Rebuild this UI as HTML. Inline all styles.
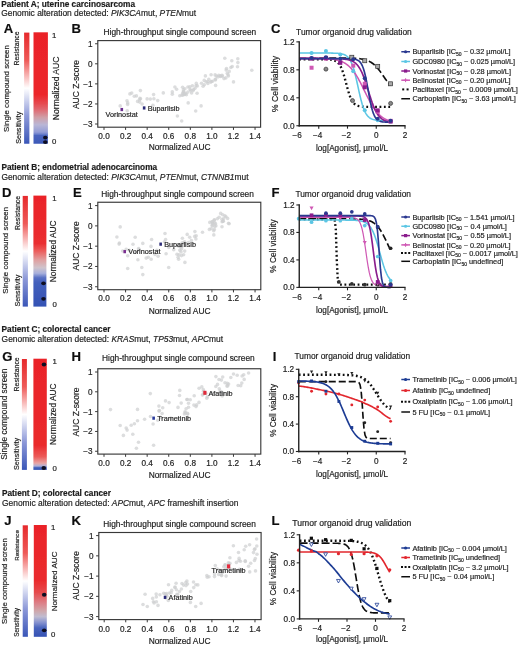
<!DOCTYPE html>
<html lang="en"><head><meta charset="utf-8"><title>Figure</title>
<style>text{stroke:#222;stroke-width:0.18px;paint-order:stroke fill}html,body{margin:0;padding:0;background:#fff}body{width:520px;height:646px;overflow:hidden}svg{display:block}</style></head>
<body>
<svg width="520" height="646" viewBox="0 0 520 646" font-family='"Liberation Sans", Arial, Helvetica, sans-serif'>
<defs>
<linearGradient id="gn" x1="0" y1="0" x2="0" y2="1"><stop offset="0" stop-color="#e62a2c"/><stop offset="0.25" stop-color="#ee5a58"/><stop offset="0.5" stop-color="#ffffff"/><stop offset="0.75" stop-color="#8c98d8"/><stop offset="1" stop-color="#3a56b8"/></linearGradient>
<linearGradient id="gh0" x1="0" y1="0" x2="0" y2="1"><stop offset="0" stop-color="#ea2328"/><stop offset="0.56" stop-color="#ec272b"/><stop offset="0.64" stop-color="#e64a50"/><stop offset="0.7" stop-color="#df6e76"/><stop offset="0.765" stop-color="#cfa0a8"/><stop offset="0.83" stop-color="#b9b6d6"/><stop offset="0.895" stop-color="#939cd6"/><stop offset="0.915" stop-color="#6a7ecb"/><stop offset="0.925" stop-color="#4a64bd"/><stop offset="1" stop-color="#3c58b8"/></linearGradient>
<linearGradient id="gh1" x1="0" y1="0" x2="0" y2="1"><stop offset="0" stop-color="#ea2328"/><stop offset="0.43" stop-color="#ea2e30"/><stop offset="0.5" stop-color="#ec5e5c"/><stop offset="0.58" stop-color="#e0a0a0"/><stop offset="0.65" stop-color="#cfc4cc"/><stop offset="0.7" stop-color="#a8b0dc"/><stop offset="0.74" stop-color="#5870c4"/><stop offset="0.78" stop-color="#4460bc"/><stop offset="1" stop-color="#3452b4"/></linearGradient>
<linearGradient id="gh2" x1="0" y1="0" x2="0" y2="1"><stop offset="0" stop-color="#ea2328"/><stop offset="0.78" stop-color="#ea2a2c"/><stop offset="0.88" stop-color="#ec5a58"/><stop offset="0.94" stop-color="#e8a4a4"/><stop offset="0.965" stop-color="#b0b0d8"/><stop offset="0.98" stop-color="#4460bc"/><stop offset="1" stop-color="#3452b4"/></linearGradient>
<linearGradient id="gh3" x1="0" y1="0" x2="0" y2="1"><stop offset="0" stop-color="#ea2328"/><stop offset="0.5" stop-color="#ea2c2e"/><stop offset="0.6" stop-color="#e64a4c"/><stop offset="0.7" stop-color="#dc8088"/><stop offset="0.77" stop-color="#cfa8ac"/><stop offset="0.82" stop-color="#c0bcd0"/><stop offset="0.87" stop-color="#8894d0"/><stop offset="0.92" stop-color="#4a64bd"/><stop offset="1" stop-color="#3452b4"/></linearGradient>
<filter id="bl" x="-5%" y="-5%" width="110%" height="110%"><feGaussianBlur stdDeviation="0.35"/></filter>
</defs>
<rect width="520" height="646" fill="#fff"/>
<g filter="url(#bl)" stroke-linecap="butt">
<text x="1.20" y="6.60" font-size="8.27" font-weight="bold" text-anchor="start" fill="#1a1a1a">Patient A; uterine carcinosarcoma</text>
<text x="1.20" y="16.40" font-size="8.42" font-weight="normal" text-anchor="start" fill="#222">Genomic alteration detected: <tspan font-style="italic">PIK3CA</tspan>mut, <tspan font-style="italic">PTEN</tspan>mut</text>
<text x="3.70" y="33.10" font-size="13.1" font-weight="bold" text-anchor="start" fill="#111">A</text>
<text x="71.60" y="33.10" font-size="13.1" font-weight="bold" text-anchor="start" fill="#111">B</text>
<text x="271.00" y="33.10" font-size="13.1" font-weight="bold" text-anchor="start" fill="#111">C</text>
<rect x="24.1" y="32.60" width="5.30" height="111.15" fill="url(#gn)"/>
<rect x="33.5" y="32.30" width="14.40" height="111.45" fill="url(#gh0)"/>
<ellipse cx="45.3" cy="137.62" rx="2.3" ry="1.9" fill="#101020"/>
<ellipse cx="45.3" cy="142.08" rx="2.3" ry="1.9" fill="#101020"/>
<text x="9.30" y="88.60" font-size="7.9" font-weight="normal" text-anchor="middle" fill="#222" transform="rotate(-90 9.30 88.60)">Single compound screen</text>
<text x="19.50" y="31.40" font-size="6.9" font-weight="normal" text-anchor="end" fill="#222" transform="rotate(-90 19.50 31.40)">Resistance</text>
<text x="20.60" y="143.75" font-size="7.1000000000000005" font-weight="normal" text-anchor="start" fill="#222" transform="rotate(-90 20.60 143.75)">Sensitivity</text>
<text x="58.80" y="88.30" font-size="8.65" font-weight="normal" text-anchor="middle" fill="#222" transform="rotate(-90 58.80 88.30)">Normalized AUC</text>
<text x="51.90" y="37.60" font-size="7.8" font-weight="normal" text-anchor="start" fill="#222">1</text>
<text x="52.00" y="144.35" font-size="7.8" font-weight="normal" text-anchor="start" fill="#222">0</text>
<text x="179.90" y="35.40" font-size="8.35" font-weight="normal" text-anchor="middle" fill="#222">High-throughput single compound screen</text>
<rect x="97.8" y="40.60" width="162.80" height="86.60" fill="none" stroke="#383838" stroke-width="1.15"/>
<line x1="95.10" y1="43.75" x2="97.80" y2="43.75" stroke="#383838" stroke-width="1.0"/>
<text x="92.60" y="46.65" font-size="8.2" font-weight="normal" text-anchor="end" fill="#222">1</text>
<line x1="95.10" y1="63.81" x2="97.80" y2="63.81" stroke="#383838" stroke-width="1.0"/>
<text x="92.60" y="66.71" font-size="8.2" font-weight="normal" text-anchor="end" fill="#222">0</text>
<line x1="95.10" y1="83.88" x2="97.80" y2="83.88" stroke="#383838" stroke-width="1.0"/>
<text x="92.60" y="86.78" font-size="8.2" font-weight="normal" text-anchor="end" fill="#222">−1</text>
<line x1="95.10" y1="103.94" x2="97.80" y2="103.94" stroke="#383838" stroke-width="1.0"/>
<text x="92.60" y="106.84" font-size="8.2" font-weight="normal" text-anchor="end" fill="#222">−2</text>
<line x1="95.10" y1="124.00" x2="97.80" y2="124.00" stroke="#383838" stroke-width="1.0"/>
<text x="92.60" y="126.90" font-size="8.2" font-weight="normal" text-anchor="end" fill="#222">−3</text>
<line x1="104.00" y1="127.20" x2="104.00" y2="129.90" stroke="#383838" stroke-width="1.0"/>
<text x="104.00" y="138.70" font-size="8.2" font-weight="normal" text-anchor="middle" fill="#222">0.0</text>
<line x1="125.58" y1="127.20" x2="125.58" y2="129.90" stroke="#383838" stroke-width="1.0"/>
<text x="125.58" y="138.70" font-size="8.2" font-weight="normal" text-anchor="middle" fill="#222">0.2</text>
<line x1="147.16" y1="127.20" x2="147.16" y2="129.90" stroke="#383838" stroke-width="1.0"/>
<text x="147.16" y="138.70" font-size="8.2" font-weight="normal" text-anchor="middle" fill="#222">0.4</text>
<line x1="168.74" y1="127.20" x2="168.74" y2="129.90" stroke="#383838" stroke-width="1.0"/>
<text x="168.74" y="138.70" font-size="8.2" font-weight="normal" text-anchor="middle" fill="#222">0.6</text>
<line x1="190.32" y1="127.20" x2="190.32" y2="129.90" stroke="#383838" stroke-width="1.0"/>
<text x="190.32" y="138.70" font-size="8.2" font-weight="normal" text-anchor="middle" fill="#222">0.8</text>
<line x1="211.90" y1="127.20" x2="211.90" y2="129.90" stroke="#383838" stroke-width="1.0"/>
<text x="211.90" y="138.70" font-size="8.2" font-weight="normal" text-anchor="middle" fill="#222">1.0</text>
<line x1="233.48" y1="127.20" x2="233.48" y2="129.90" stroke="#383838" stroke-width="1.0"/>
<text x="233.48" y="138.70" font-size="8.2" font-weight="normal" text-anchor="middle" fill="#222">1.2</text>
<line x1="255.06" y1="127.20" x2="255.06" y2="129.90" stroke="#383838" stroke-width="1.0"/>
<text x="255.06" y="138.70" font-size="8.2" font-weight="normal" text-anchor="middle" fill="#222">1.4</text>
<text x="179.60" y="150.30" font-size="8.4" font-weight="normal" text-anchor="middle" fill="#222">Normalized AUC</text>
<text x="78.80" y="84.50" font-size="8.5" font-weight="normal" text-anchor="middle" fill="#222" transform="rotate(-90 78.80 84.50)">AUC Z-score</text>
<circle cx="134.3" cy="96.2" r="1.8" fill="#cdcfd0" fill-opacity="0.7"/>
<circle cx="142.1" cy="104.0" r="1.8" fill="#cdcfd0" fill-opacity="0.7"/>
<circle cx="157.7" cy="100.6" r="1.8" fill="#cdcfd0" fill-opacity="0.7"/>
<circle cx="176.6" cy="89.2" r="1.8" fill="#cdcfd0" fill-opacity="0.7"/>
<circle cx="131.7" cy="93.1" r="1.8" fill="#cdcfd0" fill-opacity="0.7"/>
<circle cx="153.6" cy="94.6" r="1.8" fill="#cdcfd0" fill-opacity="0.7"/>
<circle cx="174.9" cy="87.0" r="1.8" fill="#cdcfd0" fill-opacity="0.7"/>
<circle cx="172.3" cy="91.9" r="1.8" fill="#cdcfd0" fill-opacity="0.7"/>
<circle cx="140.4" cy="90.6" r="1.8" fill="#cdcfd0" fill-opacity="0.7"/>
<circle cx="127.6" cy="104.4" r="1.8" fill="#cdcfd0" fill-opacity="0.7"/>
<circle cx="127.2" cy="110.8" r="1.8" fill="#cdcfd0" fill-opacity="0.7"/>
<circle cx="150.3" cy="99.1" r="1.8" fill="#cdcfd0" fill-opacity="0.7"/>
<circle cx="139.6" cy="99.8" r="1.8" fill="#cdcfd0" fill-opacity="0.7"/>
<circle cx="139.9" cy="98.4" r="1.8" fill="#cdcfd0" fill-opacity="0.7"/>
<circle cx="153.9" cy="98.8" r="1.8" fill="#cdcfd0" fill-opacity="0.7"/>
<circle cx="140.5" cy="98.7" r="1.8" fill="#cdcfd0" fill-opacity="0.7"/>
<circle cx="139.7" cy="102.1" r="1.8" fill="#cdcfd0" fill-opacity="0.7"/>
<circle cx="127.0" cy="100.8" r="1.8" fill="#cdcfd0" fill-opacity="0.7"/>
<circle cx="179.8" cy="95.7" r="1.8" fill="#cdcfd0" fill-opacity="0.7"/>
<circle cx="137.6" cy="101.4" r="1.8" fill="#cdcfd0" fill-opacity="0.7"/>
<circle cx="189.8" cy="86.9" r="1.8" fill="#cdcfd0" fill-opacity="0.7"/>
<circle cx="147.1" cy="98.9" r="1.8" fill="#cdcfd0" fill-opacity="0.7"/>
<circle cx="172.3" cy="94.2" r="1.8" fill="#cdcfd0" fill-opacity="0.7"/>
<circle cx="152.9" cy="105.2" r="1.8" fill="#cdcfd0" fill-opacity="0.7"/>
<circle cx="229.2" cy="71.4" r="1.8" fill="#cdcfd0" fill-opacity="0.7"/>
<circle cx="215.3" cy="79.2" r="1.8" fill="#cdcfd0" fill-opacity="0.7"/>
<circle cx="232.2" cy="66.5" r="1.8" fill="#cdcfd0" fill-opacity="0.7"/>
<circle cx="215.4" cy="79.9" r="1.8" fill="#cdcfd0" fill-opacity="0.7"/>
<circle cx="183.7" cy="91.8" r="1.8" fill="#cdcfd0" fill-opacity="0.7"/>
<circle cx="205.4" cy="75.9" r="1.8" fill="#cdcfd0" fill-opacity="0.7"/>
<circle cx="191.6" cy="93.0" r="1.8" fill="#cdcfd0" fill-opacity="0.7"/>
<circle cx="220.3" cy="75.9" r="1.8" fill="#cdcfd0" fill-opacity="0.7"/>
<circle cx="203.1" cy="86.3" r="1.8" fill="#cdcfd0" fill-opacity="0.7"/>
<circle cx="226.2" cy="70.1" r="1.8" fill="#cdcfd0" fill-opacity="0.7"/>
<circle cx="211.5" cy="81.6" r="1.8" fill="#cdcfd0" fill-opacity="0.7"/>
<circle cx="183.4" cy="89.9" r="1.8" fill="#cdcfd0" fill-opacity="0.7"/>
<circle cx="184.2" cy="94.5" r="1.8" fill="#cdcfd0" fill-opacity="0.7"/>
<circle cx="215.6" cy="85.4" r="1.8" fill="#cdcfd0" fill-opacity="0.7"/>
<circle cx="204.2" cy="80.4" r="1.8" fill="#cdcfd0" fill-opacity="0.7"/>
<circle cx="237.9" cy="62.6" r="1.8" fill="#cdcfd0" fill-opacity="0.7"/>
<circle cx="225.8" cy="77.9" r="1.8" fill="#cdcfd0" fill-opacity="0.7"/>
<circle cx="195.0" cy="88.2" r="1.8" fill="#cdcfd0" fill-opacity="0.7"/>
<circle cx="211.1" cy="74.8" r="1.8" fill="#cdcfd0" fill-opacity="0.7"/>
<circle cx="207.9" cy="81.6" r="1.8" fill="#cdcfd0" fill-opacity="0.7"/>
<circle cx="197.1" cy="93.3" r="1.8" fill="#cdcfd0" fill-opacity="0.7"/>
<circle cx="182.0" cy="95.3" r="1.8" fill="#cdcfd0" fill-opacity="0.7"/>
<circle cx="226.5" cy="68.5" r="1.8" fill="#cdcfd0" fill-opacity="0.7"/>
<circle cx="224.0" cy="78.6" r="1.8" fill="#cdcfd0" fill-opacity="0.7"/>
<circle cx="228.0" cy="74.8" r="1.8" fill="#cdcfd0" fill-opacity="0.7"/>
<circle cx="206.1" cy="81.8" r="1.8" fill="#cdcfd0" fill-opacity="0.7"/>
<circle cx="184.9" cy="88.7" r="1.8" fill="#cdcfd0" fill-opacity="0.7"/>
<circle cx="193.1" cy="90.6" r="1.8" fill="#cdcfd0" fill-opacity="0.7"/>
<circle cx="210.6" cy="82.1" r="1.8" fill="#cdcfd0" fill-opacity="0.7"/>
<circle cx="201.5" cy="83.2" r="1.8" fill="#cdcfd0" fill-opacity="0.7"/>
<circle cx="212.5" cy="81.3" r="1.8" fill="#cdcfd0" fill-opacity="0.7"/>
<circle cx="207.9" cy="83.5" r="1.8" fill="#cdcfd0" fill-opacity="0.7"/>
<circle cx="183.3" cy="92.0" r="1.8" fill="#cdcfd0" fill-opacity="0.7"/>
<circle cx="215.1" cy="74.9" r="1.8" fill="#cdcfd0" fill-opacity="0.7"/>
<circle cx="230.9" cy="67.5" r="1.8" fill="#cdcfd0" fill-opacity="0.7"/>
<circle cx="228.4" cy="76.0" r="1.8" fill="#cdcfd0" fill-opacity="0.7"/>
<circle cx="196.3" cy="83.4" r="1.8" fill="#cdcfd0" fill-opacity="0.7"/>
<circle cx="186.4" cy="94.8" r="1.8" fill="#cdcfd0" fill-opacity="0.7"/>
<circle cx="182.6" cy="87.2" r="1.8" fill="#cdcfd0" fill-opacity="0.7"/>
<circle cx="196.0" cy="85.7" r="1.8" fill="#cdcfd0" fill-opacity="0.7"/>
<circle cx="187.9" cy="92.1" r="1.8" fill="#cdcfd0" fill-opacity="0.7"/>
<circle cx="185.7" cy="93.2" r="1.8" fill="#cdcfd0" fill-opacity="0.7"/>
<circle cx="190.8" cy="90.6" r="1.8" fill="#cdcfd0" fill-opacity="0.7"/>
<circle cx="197.3" cy="85.9" r="1.8" fill="#cdcfd0" fill-opacity="0.7"/>
<circle cx="222.4" cy="76.1" r="1.8" fill="#cdcfd0" fill-opacity="0.7"/>
<circle cx="208.8" cy="79.2" r="1.8" fill="#cdcfd0" fill-opacity="0.7"/>
<circle cx="183.0" cy="94.9" r="1.8" fill="#cdcfd0" fill-opacity="0.7"/>
<circle cx="192.4" cy="85.7" r="1.8" fill="#cdcfd0" fill-opacity="0.7"/>
<circle cx="187.9" cy="87.0" r="1.8" fill="#cdcfd0" fill-opacity="0.7"/>
<circle cx="193.6" cy="89.5" r="1.8" fill="#cdcfd0" fill-opacity="0.7"/>
<circle cx="216.3" cy="76.1" r="1.8" fill="#cdcfd0" fill-opacity="0.7"/>
<circle cx="182.7" cy="93.2" r="1.8" fill="#cdcfd0" fill-opacity="0.7"/>
<circle cx="190.1" cy="89.4" r="1.8" fill="#cdcfd0" fill-opacity="0.7"/>
<circle cx="222.0" cy="75.4" r="1.8" fill="#cdcfd0" fill-opacity="0.7"/>
<circle cx="220.5" cy="76.5" r="1.8" fill="#cdcfd0" fill-opacity="0.7"/>
<circle cx="237.5" cy="66.7" r="1.8" fill="#cdcfd0" fill-opacity="0.7"/>
<circle cx="227.3" cy="73.3" r="1.8" fill="#cdcfd0" fill-opacity="0.7"/>
<circle cx="218.8" cy="75.4" r="1.8" fill="#cdcfd0" fill-opacity="0.7"/>
<circle cx="204.3" cy="84.7" r="1.8" fill="#cdcfd0" fill-opacity="0.7"/>
<circle cx="217.8" cy="76.9" r="1.8" fill="#cdcfd0" fill-opacity="0.7"/>
<circle cx="185.0" cy="94.0" r="1.8" fill="#cdcfd0" fill-opacity="0.7"/>
<circle cx="231.8" cy="60.8" r="1.8" fill="#cdcfd0" fill-opacity="0.7"/>
<circle cx="224.8" cy="58.2" r="1.8" fill="#cdcfd0" fill-opacity="0.7"/>
<circle cx="237.8" cy="58.8" r="1.8" fill="#cdcfd0" fill-opacity="0.7"/>
<circle cx="251.8" cy="70.2" r="1.8" fill="#cdcfd0" fill-opacity="0.7"/>
<circle cx="181.7" cy="121.0" r="1.8" fill="#cdcfd0" fill-opacity="0.7"/>
<circle cx="177.4" cy="116.0" r="1.8" fill="#cdcfd0" fill-opacity="0.7"/>
<circle cx="195.7" cy="111.0" r="1.8" fill="#cdcfd0" fill-opacity="0.7"/>
<circle cx="188.2" cy="102.9" r="1.8" fill="#cdcfd0" fill-opacity="0.7"/>
<circle cx="201.1" cy="105.9" r="1.8" fill="#cdcfd0" fill-opacity="0.7"/>
<circle cx="120.2" cy="105.9" r="1.8" fill="#cdcfd0" fill-opacity="0.7"/>
<circle cx="127.7" cy="102.9" r="1.8" fill="#cdcfd0" fill-opacity="0.7"/>
<circle cx="136.4" cy="95.9" r="1.8" fill="#cdcfd0" fill-opacity="0.7"/>
<circle cx="129.9" cy="93.9" r="1.8" fill="#cdcfd0" fill-opacity="0.7"/>
<circle cx="233.5" cy="81.9" r="1.8" fill="#cdcfd0" fill-opacity="0.7"/>
<circle cx="163.3" cy="92.9" r="1.8" fill="#cdcfd0" fill-opacity="0.7"/>
<rect x="120.50" y="107.95" width="2.6" height="3.2" fill="#6b2d8f"/>
<text x="105.60" y="117.25" font-size="7.25" font-weight="normal" text-anchor="start" fill="#222">Vorinostat</text>
<rect x="142.84" y="106.35" width="2.6" height="3.2" fill="#2a2a78"/>
<text x="147.64" y="110.75" font-size="7.25" font-weight="normal" text-anchor="start" fill="#222">Buparlisib</text>
<text x="296.10" y="35.40" font-size="8.4" font-weight="normal" text-anchor="start" fill="#222">Tumor organoid drug validation</text>
<polyline points="299.25,59.35 300.27,59.35 301.28,59.35 302.30,59.35 303.31,59.35 304.33,59.35 305.34,59.35 306.36,59.35 307.37,59.35 308.39,59.35 309.40,59.35 310.42,59.35 311.43,59.35 312.45,59.35 313.46,59.35 314.48,59.35 315.49,59.35 316.51,59.35 317.52,59.35 318.54,59.35 319.56,59.35 320.57,59.36 321.59,59.36 322.60,59.37 323.62,59.38 324.63,59.39 325.65,59.41 326.66,59.44 327.68,59.48 328.69,59.53 329.71,59.60 330.72,59.69 331.74,59.82 332.75,60.00 333.77,60.25 334.78,60.59 335.80,61.06 336.82,61.68 337.83,62.52 338.85,63.63 339.86,65.08 340.88,66.93 341.89,69.24 342.91,72.03 343.92,75.27 344.94,78.87 345.95,82.69 346.97,86.53 347.98,90.20 349.00,93.53 350.01,96.42 351.03,98.83 352.04,100.78 353.06,102.31 354.07,103.49 355.09,104.38 356.11,105.05 357.12,105.54 358.14,105.90 359.15,106.17 360.17,106.36 361.18,106.51 362.20,106.61 363.21,106.68 364.23,106.74 365.24,106.78 366.26,106.80 367.27,106.82 368.29,106.84 369.30,106.85 370.32,106.86 371.33,106.86 372.35,106.87 373.37,106.87 374.38,106.87 375.40,106.87 376.41,106.87 377.43,106.87 378.44,106.88 379.46,106.88 380.47,106.88 381.49,106.88 382.50,106.88 383.52,106.88 384.53,106.88 385.55,106.88 386.56,106.88 387.58,106.88 388.59,106.88 389.61,106.88 390.62,106.88" fill="none" stroke="#111" stroke-width="2.35" stroke-dasharray="1.8 2.6" stroke-linejoin="round"/>
<polyline points="299.25,57.95 300.27,57.95 301.28,57.95 302.30,57.95 303.31,57.95 304.33,57.95 305.34,57.95 306.36,57.95 307.37,57.95 308.39,57.95 309.40,57.95 310.42,57.95 311.43,57.95 312.45,57.95 313.46,57.95 314.48,57.95 315.49,57.95 316.51,57.95 317.52,57.95 318.54,57.95 319.56,57.95 320.57,57.95 321.59,57.95 322.60,57.95 323.62,57.95 324.63,57.95 325.65,57.95 326.66,57.95 327.68,57.95 328.69,57.95 329.71,57.95 330.72,57.95 331.74,57.96 332.75,57.96 333.77,57.96 334.78,57.96 335.80,57.96 336.82,57.97 337.83,57.97 338.85,57.98 339.86,57.98 340.88,57.99 341.89,57.99 342.91,58.00 343.92,58.01 344.94,58.02 345.95,58.04 346.97,58.05 347.98,58.07 349.00,58.09 350.01,58.12 351.03,58.15 352.04,58.18 353.06,58.22 354.07,58.27 355.09,58.33 356.11,58.40 357.12,58.48 358.14,58.57 359.15,58.68 360.17,58.80 361.18,58.95 362.20,59.12 363.21,59.32 364.23,59.55 365.24,59.82 366.26,60.13 367.27,60.49 368.29,60.90 369.30,61.37 370.32,61.91 371.33,62.52 372.35,63.21 373.37,63.99 374.38,64.85 375.40,65.80 376.41,66.85 377.43,67.99 378.44,69.21 379.46,70.52 380.47,71.88 381.49,73.31 382.50,74.76 383.52,76.24 384.53,77.71 385.55,79.16 386.56,80.58 387.58,81.94 388.59,83.23 389.61,84.44 390.62,85.56" fill="none" stroke="#111" stroke-width="1.65" stroke-dasharray="7 3" stroke-linejoin="round"/>
<polyline points="299.25,53.05 300.27,53.05 301.28,53.05 302.30,53.05 303.31,53.05 304.33,53.05 305.34,53.05 306.36,53.05 307.37,53.05 308.39,53.05 309.40,53.05 310.42,53.05 311.43,53.05 312.45,53.05 313.46,53.05 314.48,53.05 315.49,53.05 316.51,53.05 317.52,53.06 318.54,53.06 319.56,53.06 320.57,53.06 321.59,53.06 322.60,53.06 323.62,53.06 324.63,53.06 325.65,53.06 326.66,53.07 327.68,53.07 328.69,53.08 329.71,53.08 330.72,53.09 331.74,53.11 332.75,53.12 333.77,53.15 334.78,53.18 335.80,53.21 336.82,53.26 337.83,53.33 338.85,53.42 339.86,53.53 340.88,53.69 341.89,53.88 342.91,54.14 343.92,54.48 344.94,54.93 345.95,55.50 346.97,56.25 347.98,57.20 349.00,58.42 350.01,59.95 351.03,61.86 352.04,64.20 353.06,67.01 354.07,70.32 355.09,74.10 356.11,78.30 357.12,82.79 358.14,87.43 359.15,92.05 360.17,96.48 361.18,100.57 362.20,104.22 363.21,107.39 364.23,110.07 365.24,112.28 366.26,114.08 367.27,115.52 368.29,116.65 369.30,117.54 370.32,118.24 371.33,118.77 372.35,119.18 373.37,119.50 374.38,119.74 375.40,119.92 376.41,120.06 377.43,120.17 378.44,120.25 379.46,120.31 380.47,120.36 381.49,120.40 382.50,120.42 383.52,120.44 384.53,120.46 385.55,120.47 386.56,120.48 387.58,120.49 388.59,120.49 389.61,120.50 390.62,120.50" fill="none" stroke="#5cc6e4" stroke-width="1.55" stroke-linejoin="round"/>
<polyline points="299.25,57.97 300.27,57.97 301.28,57.97 302.30,57.97 303.31,57.98 304.33,57.98 305.34,57.99 306.36,57.99 307.37,58.00 308.39,58.01 309.40,58.01 310.42,58.02 311.43,58.03 312.45,58.05 313.46,58.06 314.48,58.07 315.49,58.09 316.51,58.11 317.52,58.13 318.54,58.16 319.56,58.19 320.57,58.22 321.59,58.26 322.60,58.30 323.62,58.34 324.63,58.40 325.65,58.46 326.66,58.53 327.68,58.60 328.69,58.69 329.71,58.79 330.72,58.90 331.74,59.03 332.75,59.17 333.77,59.34 334.78,59.52 335.80,59.73 336.82,59.96 337.83,60.22 338.85,60.52 339.86,60.85 340.88,61.22 341.89,61.64 342.91,62.11 343.92,62.63 344.94,63.22 345.95,63.87 346.97,64.59 347.98,65.38 349.00,66.26 350.01,67.23 351.03,68.28 352.04,69.44 353.06,70.69 354.07,72.04 355.09,73.50 356.11,75.05 357.12,76.71 358.14,78.45 359.15,80.28 360.17,82.19 361.18,84.16 362.20,86.18 363.21,88.24 364.23,90.32 365.24,92.40 366.26,94.47 367.27,96.51 368.29,98.51 369.30,100.44 370.32,102.31 371.33,104.10 372.35,105.79 373.37,107.39 374.38,108.90 375.40,110.30 376.41,111.60 377.43,112.80 378.44,113.90 379.46,114.90 380.47,115.82 381.49,116.66 382.50,117.41 383.52,118.09 384.53,118.70 385.55,119.25 386.56,119.75 387.58,120.19 388.59,120.58 389.61,120.93 390.62,121.24" fill="none" stroke="#cf58b4" stroke-width="1.55" stroke-linejoin="round"/>
<polyline points="299.25,58.65 300.27,58.65 301.28,58.65 302.30,58.65 303.31,58.65 304.33,58.65 305.34,58.65 306.36,58.65 307.37,58.65 308.39,58.65 309.40,58.65 310.42,58.65 311.43,58.65 312.45,58.65 313.46,58.65 314.48,58.65 315.49,58.65 316.51,58.65 317.52,58.65 318.54,58.65 319.56,58.65 320.57,58.65 321.59,58.65 322.60,58.65 323.62,58.65 324.63,58.66 325.65,58.66 326.66,58.66 327.68,58.66 328.69,58.67 329.71,58.67 330.72,58.68 331.74,58.69 332.75,58.70 333.77,58.71 334.78,58.72 335.80,58.74 336.82,58.76 337.83,58.79 338.85,58.82 339.86,58.86 340.88,58.91 341.89,58.97 342.91,59.04 343.92,59.13 344.94,59.23 345.95,59.36 346.97,59.52 347.98,59.72 349.00,59.96 350.01,60.24 351.03,60.59 352.04,61.02 353.06,61.53 354.07,62.14 355.09,62.88 356.11,63.75 357.12,64.79 358.14,66.02 359.15,67.46 360.17,69.12 361.18,71.02 362.20,73.18 363.21,75.60 364.23,78.25 365.24,81.13 366.26,84.18 367.27,87.37 368.29,90.62 369.30,93.88 370.32,97.08 371.33,100.15 372.35,103.05 373.37,105.73 374.38,108.17 375.40,110.35 376.41,112.29 377.43,113.98 378.44,115.43 379.46,116.68 380.47,117.74 381.49,118.64 382.50,119.39 383.52,120.01 384.53,120.53 385.55,120.97 386.56,121.32 387.58,121.62 388.59,121.86 389.61,122.06 390.62,122.22" fill="none" stroke="#8a1c8c" stroke-width="1.65" stroke-linejoin="round"/>
<polyline points="299.25,58.65 300.27,58.65 301.28,58.65 302.30,58.65 303.31,58.65 304.33,58.65 305.34,58.65 306.36,58.65 307.37,58.65 308.39,58.65 309.40,58.65 310.42,58.65 311.43,58.65 312.45,58.65 313.46,58.65 314.48,58.65 315.49,58.65 316.51,58.65 317.52,58.65 318.54,58.65 319.56,58.65 320.57,58.65 321.59,58.65 322.60,58.65 323.62,58.65 324.63,58.65 325.65,58.65 326.66,58.65 327.68,58.65 328.69,58.65 329.71,58.65 330.72,58.65 331.74,58.65 332.75,58.65 333.77,58.65 334.78,58.65 335.80,58.65 336.82,58.65 337.83,58.65 338.85,58.65 339.86,58.65 340.88,58.65 341.89,58.65 342.91,58.65 343.92,58.66 344.94,58.66 345.95,58.67 346.97,58.68 347.98,58.70 349.00,58.72 350.01,58.75 351.03,58.80 352.04,58.86 353.06,58.95 354.07,59.08 355.09,59.27 356.11,59.53 357.12,59.90 358.14,60.43 359.15,61.16 360.17,62.19 361.18,63.59 362.20,65.49 363.21,68.00 364.23,71.23 365.24,75.23 366.26,79.98 367.27,85.30 368.29,90.95 369.30,96.56 370.32,101.80 371.33,106.42 372.35,110.29 373.37,113.39 374.38,115.78 375.40,117.59 376.41,118.92 377.43,119.88 378.44,120.58 379.46,121.07 380.47,121.42 381.49,121.67 382.50,121.85 383.52,121.97 384.53,122.05 385.55,122.11 386.56,122.16 387.58,122.19 388.59,122.21 389.61,122.22 390.62,122.23" fill="none" stroke="#2b3990" stroke-width="1.65" stroke-linejoin="round"/>
<circle cx="325.94" cy="69.13" r="2.0" fill="#888" stroke="#333" stroke-width="0.7"/>
<circle cx="352.53" cy="100.59" r="2.0" fill="#888" stroke="#333" stroke-width="0.7"/>
<circle cx="390.62" cy="103.38" r="2.0" fill="#888" stroke="#333" stroke-width="0.7"/>
<rect x="349.81" y="55.25" width="4.0" height="4.0" fill="#aaa" stroke="#333" stroke-width="0.7"/>
<rect x="362.75" y="58.74" width="4.0" height="4.0" fill="#aaa" stroke="#333" stroke-width="0.7"/>
<rect x="375.69" y="64.33" width="4.0" height="4.0" fill="#aaa" stroke="#333" stroke-width="0.7"/>
<rect x="388.62" y="81.81" width="4.0" height="4.0" fill="#aaa" stroke="#333" stroke-width="0.7"/>
<circle cx="311.56" cy="53.05" r="2.0" fill="#5cc6e4"/>
<circle cx="325.94" cy="50.96" r="2.0" fill="#5cc6e4"/>
<circle cx="340.31" cy="54.45" r="2.0" fill="#5cc6e4"/>
<circle cx="353.25" cy="71.23" r="2.0" fill="#5cc6e4"/>
<circle cx="364.75" cy="110.37" r="2.0" fill="#5cc6e4"/>
<circle cx="377.69" cy="120.16" r="2.0" fill="#5cc6e4"/>
<circle cx="390.62" cy="121.56" r="2.0" fill="#5cc6e4"/>
<rect x="309.56" y="65.73" width="4.0" height="4.0" fill="#cf58b4"/>
<rect x="323.94" y="56.65" width="4.0" height="4.0" fill="#cf58b4"/>
<rect x="338.31" y="58.74" width="4.0" height="4.0" fill="#cf58b4"/>
<rect x="351.25" y="63.64" width="4.0" height="4.0" fill="#cf58b4"/>
<rect x="362.75" y="81.81" width="4.0" height="4.0" fill="#cf58b4"/>
<rect x="375.69" y="109.77" width="4.0" height="4.0" fill="#cf58b4"/>
<rect x="388.62" y="118.86" width="4.0" height="4.0" fill="#cf58b4"/>
<rect x="309.56" y="56.65" width="4.0" height="4.0" fill="#8a1c8c"/>
<rect x="323.94" y="55.95" width="4.0" height="4.0" fill="#8a1c8c"/>
<rect x="338.31" y="60.84" width="4.0" height="4.0" fill="#8a1c8c"/>
<rect x="362.75" y="85.30" width="4.0" height="4.0" fill="#8a1c8c"/>
<rect x="375.69" y="108.37" width="4.0" height="4.0" fill="#8a1c8c"/>
<rect x="388.62" y="119.56" width="4.0" height="4.0" fill="#8a1c8c"/>
<circle cx="311.56" cy="57.95" r="2.0" fill="#2b3990"/>
<circle cx="325.94" cy="57.25" r="2.0" fill="#2b3990"/>
<circle cx="340.31" cy="58.65" r="2.0" fill="#2b3990"/>
<circle cx="353.25" cy="59.34" r="2.0" fill="#2b3990"/>
<circle cx="364.75" cy="78.22" r="2.0" fill="#2b3990"/>
<circle cx="377.69" cy="118.76" r="2.0" fill="#2b3990"/>
<circle cx="390.62" cy="120.86" r="2.0" fill="#2b3990"/>
<line x1="299.25" y1="41.27" x2="299.25" y2="126.45" stroke="#222" stroke-width="1.4"/>
<line x1="298.55" y1="125.75" x2="405.60" y2="125.75" stroke="#222" stroke-width="1.4"/>
<line x1="296.35" y1="125.75" x2="299.25" y2="125.75" stroke="#222" stroke-width="1.1"/>
<text x="294.65" y="128.65" font-size="8.2" font-weight="normal" text-anchor="end" fill="#222">0.0</text>
<line x1="296.35" y1="97.79" x2="299.25" y2="97.79" stroke="#222" stroke-width="1.1"/>
<text x="294.65" y="100.69" font-size="8.2" font-weight="normal" text-anchor="end" fill="#222">0.4</text>
<line x1="296.35" y1="69.83" x2="299.25" y2="69.83" stroke="#222" stroke-width="1.1"/>
<text x="294.65" y="72.73" font-size="8.2" font-weight="normal" text-anchor="end" fill="#222">0.8</text>
<line x1="296.35" y1="41.87" x2="299.25" y2="41.87" stroke="#222" stroke-width="1.1"/>
<text x="294.65" y="44.77" font-size="8.2" font-weight="normal" text-anchor="end" fill="#222">1.2</text>
<line x1="318.75" y1="125.75" x2="318.75" y2="128.65" stroke="#222" stroke-width="1.1"/>
<text x="317.55" y="137.95" font-size="8.2" font-weight="normal" text-anchor="middle" fill="#222">−4</text>
<line x1="347.50" y1="125.75" x2="347.50" y2="128.65" stroke="#222" stroke-width="1.1"/>
<text x="346.30" y="137.95" font-size="8.2" font-weight="normal" text-anchor="middle" fill="#222">−2</text>
<line x1="376.25" y1="125.75" x2="376.25" y2="128.65" stroke="#222" stroke-width="1.1"/>
<text x="376.25" y="137.95" font-size="8.2" font-weight="normal" text-anchor="middle" fill="#222">0</text>
<line x1="405.00" y1="125.75" x2="405.00" y2="128.65" stroke="#222" stroke-width="1.1"/>
<text x="405.00" y="137.95" font-size="8.2" font-weight="normal" text-anchor="middle" fill="#222">2</text>
<text x="297.25" y="137.95" font-size="8.2" font-weight="normal" text-anchor="middle" fill="#222">−6</text>
<text x="352.00" y="150.95" font-size="8.2" font-weight="normal" text-anchor="middle" fill="#222">log[Agonist], µmol/L</text>
<text x="277.60" y="84.00" font-size="8.75" font-weight="normal" text-anchor="middle" fill="#222" transform="rotate(-90 277.60 84.00)">% Cell viability</text>
<line x1="401.30" y1="51.75" x2="410.00" y2="51.75" stroke="#2b3990" stroke-width="1.5"/>
<circle cx="405.60" cy="51.75" r="1.6" fill="#2b3990"/>
<text x="412.40" y="54.35" font-size="7.35" font-weight="normal" text-anchor="start" fill="#222">Buparlisib [IC<tspan font-size="5" dy="1.6">50</tspan><tspan dy="-1.6"> ~ 0.32 µmol/L]</tspan></text>
<line x1="401.30" y1="61.50" x2="410.00" y2="61.50" stroke="#5cc6e4" stroke-width="1.5"/>
<circle cx="405.60" cy="61.50" r="1.6" fill="#5cc6e4"/>
<text x="412.40" y="64.10" font-size="7.35" font-weight="normal" text-anchor="start" fill="#222">GDC0980 [IC<tspan font-size="5" dy="1.6">50</tspan><tspan dy="-1.6"> ~ 0.025 µmol/L]</tspan></text>
<line x1="401.30" y1="71.00" x2="410.00" y2="71.00" stroke="#8a1c8c" stroke-width="1.5"/>
<rect x="404.00" y="69.40" width="3.2" height="3.2" fill="#8a1c8c"/>
<text x="412.40" y="73.60" font-size="7.35" font-weight="normal" text-anchor="start" fill="#222">Vorinostat [IC<tspan font-size="5" dy="1.6">50</tspan><tspan dy="-1.6"> ~ 0.28 µmol/L]</tspan></text>
<line x1="401.30" y1="80.20" x2="410.00" y2="80.20" stroke="#cf58b4" stroke-width="1.5"/>
<path d="M403.68 80.20h3.84M405.60 78.28v3.84" stroke="#cf58b4" stroke-width="1"/>
<text x="412.40" y="82.80" font-size="7.35" font-weight="normal" text-anchor="start" fill="#222">Belinostat [IC<tspan font-size="5" dy="1.6">50</tspan><tspan dy="-1.6"> ~ 0.20 µmol/L]</tspan></text>
<rect x="402.2" y="88.40" width="2" height="2" fill="#111"/>
<rect x="406.6" y="88.40" width="2" height="2" fill="#111"/>
<text x="412.40" y="92.00" font-size="7.35" font-weight="normal" text-anchor="start" fill="#222">Paclitaxel [IC<tspan font-size="5" dy="1.6">50</tspan><tspan dy="-1.6"> ~ 0.0009 µmol/L]</tspan></text>
<line x1="401.30" y1="98.75" x2="410.00" y2="98.75" stroke="#111" stroke-width="1.5"/>
<text x="412.40" y="101.35" font-size="7.35" font-weight="normal" text-anchor="start" fill="#222">Carboplatin [IC<tspan font-size="5" dy="1.6">50</tspan><tspan dy="-1.6"> ~ 3.63 µmol/L]</tspan></text>
<text x="1.40" y="170.00" font-size="8.27" font-weight="bold" text-anchor="start" fill="#1a1a1a">Patient B; endometrial adenocarcinoma</text>
<text x="1.40" y="179.60" font-size="8.42" font-weight="normal" text-anchor="start" fill="#222">Genomic alteration detected: <tspan font-style="italic">PIK3CA</tspan>mut, <tspan font-style="italic">PTEN</tspan>mut, <tspan font-style="italic">CTNNB1</tspan>mut</text>
<text x="2.00" y="196.80" font-size="13.1" font-weight="bold" text-anchor="start" fill="#111">D</text>
<text x="73.10" y="196.80" font-size="13.1" font-weight="bold" text-anchor="start" fill="#111">E</text>
<text x="271.50" y="196.80" font-size="13.1" font-weight="bold" text-anchor="start" fill="#111">F</text>
<rect x="22.7" y="195.90" width="5.20" height="110.70" fill="url(#gn)"/>
<rect x="33.4" y="195.60" width="13.00" height="111.00" fill="url(#gh1)"/>
<ellipse cx="43.5" cy="283.29" rx="2.3" ry="1.9" fill="#101020"/>
<ellipse cx="43.5" cy="298.83" rx="2.3" ry="1.9" fill="#101020"/>
<text x="8.40" y="250.30" font-size="7.9" font-weight="normal" text-anchor="middle" fill="#222" transform="rotate(-90 8.40 250.30)">Single compound screen</text>
<text x="19.60" y="195.90" font-size="6.9" font-weight="normal" text-anchor="end" fill="#222" transform="rotate(-90 19.60 195.90)">Resistance</text>
<text x="19.60" y="306.60" font-size="7.1000000000000005" font-weight="normal" text-anchor="start" fill="#222" transform="rotate(-90 19.60 306.60)">Sensitivity</text>
<text x="55.80" y="251.30" font-size="8.4" font-weight="normal" text-anchor="middle" fill="#222" transform="rotate(-90 55.80 251.30)">Normalized AUC</text>
<text x="52.30" y="200.90" font-size="7.8" font-weight="normal" text-anchor="start" fill="#222">1</text>
<text x="52.40" y="307.20" font-size="7.8" font-weight="normal" text-anchor="start" fill="#222">0</text>
<text x="177.60" y="196.90" font-size="8.35" font-weight="normal" text-anchor="middle" fill="#222">High-throughput single compound screen</text>
<rect x="97.8" y="202.25" width="163.00" height="87.45" fill="none" stroke="#383838" stroke-width="1.15"/>
<line x1="95.10" y1="205.60" x2="97.80" y2="205.60" stroke="#383838" stroke-width="1.0"/>
<text x="92.60" y="208.50" font-size="8.2" font-weight="normal" text-anchor="end" fill="#222">1</text>
<line x1="95.10" y1="225.89" x2="97.80" y2="225.89" stroke="#383838" stroke-width="1.0"/>
<text x="92.60" y="228.79" font-size="8.2" font-weight="normal" text-anchor="end" fill="#222">0</text>
<line x1="95.10" y1="246.18" x2="97.80" y2="246.18" stroke="#383838" stroke-width="1.0"/>
<text x="92.60" y="249.08" font-size="8.2" font-weight="normal" text-anchor="end" fill="#222">−1</text>
<line x1="95.10" y1="266.46" x2="97.80" y2="266.46" stroke="#383838" stroke-width="1.0"/>
<text x="92.60" y="269.36" font-size="8.2" font-weight="normal" text-anchor="end" fill="#222">−2</text>
<line x1="95.10" y1="286.75" x2="97.80" y2="286.75" stroke="#383838" stroke-width="1.0"/>
<text x="92.60" y="289.65" font-size="8.2" font-weight="normal" text-anchor="end" fill="#222">−3</text>
<line x1="104.00" y1="289.70" x2="104.00" y2="292.40" stroke="#383838" stroke-width="1.0"/>
<text x="104.00" y="301.20" font-size="8.2" font-weight="normal" text-anchor="middle" fill="#222">0.0</text>
<line x1="125.58" y1="289.70" x2="125.58" y2="292.40" stroke="#383838" stroke-width="1.0"/>
<text x="125.58" y="301.20" font-size="8.2" font-weight="normal" text-anchor="middle" fill="#222">0.2</text>
<line x1="147.16" y1="289.70" x2="147.16" y2="292.40" stroke="#383838" stroke-width="1.0"/>
<text x="147.16" y="301.20" font-size="8.2" font-weight="normal" text-anchor="middle" fill="#222">0.4</text>
<line x1="168.74" y1="289.70" x2="168.74" y2="292.40" stroke="#383838" stroke-width="1.0"/>
<text x="168.74" y="301.20" font-size="8.2" font-weight="normal" text-anchor="middle" fill="#222">0.6</text>
<line x1="190.32" y1="289.70" x2="190.32" y2="292.40" stroke="#383838" stroke-width="1.0"/>
<text x="190.32" y="301.20" font-size="8.2" font-weight="normal" text-anchor="middle" fill="#222">0.8</text>
<line x1="211.90" y1="289.70" x2="211.90" y2="292.40" stroke="#383838" stroke-width="1.0"/>
<text x="211.90" y="301.20" font-size="8.2" font-weight="normal" text-anchor="middle" fill="#222">1.0</text>
<line x1="233.48" y1="289.70" x2="233.48" y2="292.40" stroke="#383838" stroke-width="1.0"/>
<text x="233.48" y="301.20" font-size="8.2" font-weight="normal" text-anchor="middle" fill="#222">1.2</text>
<line x1="255.06" y1="289.70" x2="255.06" y2="292.40" stroke="#383838" stroke-width="1.0"/>
<text x="255.06" y="301.20" font-size="8.2" font-weight="normal" text-anchor="middle" fill="#222">1.4</text>
<text x="179.60" y="313.50" font-size="8.4" font-weight="normal" text-anchor="middle" fill="#222">Normalized AUC</text>
<text x="78.80" y="245.88" font-size="8.5" font-weight="normal" text-anchor="middle" fill="#222" transform="rotate(-90 78.80 245.88)">AUC Z-score</text>
<circle cx="181.9" cy="246.5" r="1.8" fill="#cdcfd0" fill-opacity="0.7"/>
<circle cx="122.7" cy="251.0" r="1.8" fill="#cdcfd0" fill-opacity="0.7"/>
<circle cx="173.7" cy="249.8" r="1.8" fill="#cdcfd0" fill-opacity="0.7"/>
<circle cx="137.9" cy="259.8" r="1.8" fill="#cdcfd0" fill-opacity="0.7"/>
<circle cx="158.1" cy="256.2" r="1.8" fill="#cdcfd0" fill-opacity="0.7"/>
<circle cx="127.7" cy="255.7" r="1.8" fill="#cdcfd0" fill-opacity="0.7"/>
<circle cx="146.2" cy="258.1" r="1.8" fill="#cdcfd0" fill-opacity="0.7"/>
<circle cx="184.6" cy="241.9" r="1.8" fill="#cdcfd0" fill-opacity="0.7"/>
<circle cx="181.5" cy="255.6" r="1.8" fill="#cdcfd0" fill-opacity="0.7"/>
<circle cx="135.2" cy="252.0" r="1.8" fill="#cdcfd0" fill-opacity="0.7"/>
<circle cx="119.4" cy="243.0" r="1.8" fill="#cdcfd0" fill-opacity="0.7"/>
<circle cx="138.6" cy="248.6" r="1.8" fill="#cdcfd0" fill-opacity="0.7"/>
<circle cx="142.8" cy="243.4" r="1.8" fill="#cdcfd0" fill-opacity="0.7"/>
<circle cx="155.0" cy="254.5" r="1.8" fill="#cdcfd0" fill-opacity="0.7"/>
<circle cx="133.0" cy="244.2" r="1.8" fill="#cdcfd0" fill-opacity="0.7"/>
<circle cx="126.2" cy="249.3" r="1.8" fill="#cdcfd0" fill-opacity="0.7"/>
<circle cx="151.6" cy="239.5" r="1.8" fill="#cdcfd0" fill-opacity="0.7"/>
<circle cx="129.3" cy="250.2" r="1.8" fill="#cdcfd0" fill-opacity="0.7"/>
<circle cx="177.7" cy="245.6" r="1.8" fill="#cdcfd0" fill-opacity="0.7"/>
<circle cx="178.6" cy="259.2" r="1.8" fill="#cdcfd0" fill-opacity="0.7"/>
<circle cx="168.8" cy="247.5" r="1.8" fill="#cdcfd0" fill-opacity="0.7"/>
<circle cx="183.6" cy="254.7" r="1.8" fill="#cdcfd0" fill-opacity="0.7"/>
<circle cx="182.3" cy="242.7" r="1.8" fill="#cdcfd0" fill-opacity="0.7"/>
<circle cx="165.6" cy="239.6" r="1.8" fill="#cdcfd0" fill-opacity="0.7"/>
<circle cx="148.3" cy="257.2" r="1.8" fill="#cdcfd0" fill-opacity="0.7"/>
<circle cx="179.8" cy="250.2" r="1.8" fill="#cdcfd0" fill-opacity="0.7"/>
<circle cx="151.0" cy="246.4" r="1.8" fill="#cdcfd0" fill-opacity="0.7"/>
<circle cx="177.0" cy="254.2" r="1.8" fill="#cdcfd0" fill-opacity="0.7"/>
<circle cx="178.1" cy="257.2" r="1.8" fill="#cdcfd0" fill-opacity="0.7"/>
<circle cx="179.5" cy="246.6" r="1.8" fill="#cdcfd0" fill-opacity="0.7"/>
<circle cx="166.1" cy="253.8" r="1.8" fill="#cdcfd0" fill-opacity="0.7"/>
<circle cx="139.0" cy="249.5" r="1.8" fill="#cdcfd0" fill-opacity="0.7"/>
<circle cx="164.5" cy="241.8" r="1.8" fill="#cdcfd0" fill-opacity="0.7"/>
<circle cx="135.2" cy="237.3" r="1.8" fill="#cdcfd0" fill-opacity="0.7"/>
<circle cx="178.9" cy="254.9" r="1.8" fill="#cdcfd0" fill-opacity="0.7"/>
<circle cx="165.0" cy="233.5" r="1.8" fill="#cdcfd0" fill-opacity="0.7"/>
<circle cx="151.2" cy="259.2" r="1.8" fill="#cdcfd0" fill-opacity="0.7"/>
<circle cx="156.9" cy="250.4" r="1.8" fill="#cdcfd0" fill-opacity="0.7"/>
<circle cx="194.7" cy="236.4" r="1.8" fill="#cdcfd0" fill-opacity="0.7"/>
<circle cx="224.9" cy="215.9" r="1.8" fill="#cdcfd0" fill-opacity="0.7"/>
<circle cx="209.8" cy="222.4" r="1.8" fill="#cdcfd0" fill-opacity="0.7"/>
<circle cx="214.8" cy="222.9" r="1.8" fill="#cdcfd0" fill-opacity="0.7"/>
<circle cx="223.6" cy="218.9" r="1.8" fill="#cdcfd0" fill-opacity="0.7"/>
<circle cx="182.4" cy="238.3" r="1.8" fill="#cdcfd0" fill-opacity="0.7"/>
<circle cx="211.2" cy="228.7" r="1.8" fill="#cdcfd0" fill-opacity="0.7"/>
<circle cx="222.0" cy="219.3" r="1.8" fill="#cdcfd0" fill-opacity="0.7"/>
<circle cx="184.7" cy="251.1" r="1.8" fill="#cdcfd0" fill-opacity="0.7"/>
<circle cx="191.4" cy="240.6" r="1.8" fill="#cdcfd0" fill-opacity="0.7"/>
<circle cx="189.7" cy="237.3" r="1.8" fill="#cdcfd0" fill-opacity="0.7"/>
<circle cx="214.3" cy="229.4" r="1.8" fill="#cdcfd0" fill-opacity="0.7"/>
<circle cx="181.1" cy="246.9" r="1.8" fill="#cdcfd0" fill-opacity="0.7"/>
<circle cx="212.2" cy="225.9" r="1.8" fill="#cdcfd0" fill-opacity="0.7"/>
<circle cx="183.6" cy="243.0" r="1.8" fill="#cdcfd0" fill-opacity="0.7"/>
<circle cx="214.9" cy="226.5" r="1.8" fill="#cdcfd0" fill-opacity="0.7"/>
<circle cx="180.6" cy="245.9" r="1.8" fill="#cdcfd0" fill-opacity="0.7"/>
<circle cx="187.2" cy="234.4" r="1.8" fill="#cdcfd0" fill-opacity="0.7"/>
<circle cx="188.5" cy="242.6" r="1.8" fill="#cdcfd0" fill-opacity="0.7"/>
<circle cx="181.6" cy="248.7" r="1.8" fill="#cdcfd0" fill-opacity="0.7"/>
<circle cx="227.6" cy="218.4" r="1.8" fill="#cdcfd0" fill-opacity="0.7"/>
<circle cx="196.2" cy="235.8" r="1.8" fill="#cdcfd0" fill-opacity="0.7"/>
<circle cx="209.4" cy="229.4" r="1.8" fill="#cdcfd0" fill-opacity="0.7"/>
<circle cx="195.9" cy="238.9" r="1.8" fill="#cdcfd0" fill-opacity="0.7"/>
<circle cx="181.0" cy="251.9" r="1.8" fill="#cdcfd0" fill-opacity="0.7"/>
<circle cx="215.5" cy="223.7" r="1.8" fill="#cdcfd0" fill-opacity="0.7"/>
<circle cx="223.3" cy="221.2" r="1.8" fill="#cdcfd0" fill-opacity="0.7"/>
<circle cx="213.8" cy="234.9" r="1.8" fill="#cdcfd0" fill-opacity="0.7"/>
<circle cx="202.5" cy="232.3" r="1.8" fill="#cdcfd0" fill-opacity="0.7"/>
<circle cx="194.9" cy="231.6" r="1.8" fill="#cdcfd0" fill-opacity="0.7"/>
<circle cx="213.7" cy="230.7" r="1.8" fill="#cdcfd0" fill-opacity="0.7"/>
<circle cx="214.1" cy="220.2" r="1.8" fill="#cdcfd0" fill-opacity="0.7"/>
<circle cx="222.0" cy="226.7" r="1.8" fill="#cdcfd0" fill-opacity="0.7"/>
<circle cx="214.4" cy="219.8" r="1.8" fill="#cdcfd0" fill-opacity="0.7"/>
<circle cx="228.5" cy="223.2" r="1.8" fill="#cdcfd0" fill-opacity="0.7"/>
<circle cx="219.1" cy="217.3" r="1.8" fill="#cdcfd0" fill-opacity="0.7"/>
<circle cx="212.2" cy="224.9" r="1.8" fill="#cdcfd0" fill-opacity="0.7"/>
<circle cx="212.9" cy="223.6" r="1.8" fill="#cdcfd0" fill-opacity="0.7"/>
<circle cx="212.5" cy="221.9" r="1.8" fill="#cdcfd0" fill-opacity="0.7"/>
<circle cx="222.9" cy="221.3" r="1.8" fill="#cdcfd0" fill-opacity="0.7"/>
<circle cx="220.7" cy="213.4" r="1.8" fill="#cdcfd0" fill-opacity="0.7"/>
<circle cx="229.1" cy="223.8" r="1.8" fill="#cdcfd0" fill-opacity="0.7"/>
<circle cx="215.9" cy="225.7" r="1.8" fill="#cdcfd0" fill-opacity="0.7"/>
<circle cx="222.1" cy="221.8" r="1.8" fill="#cdcfd0" fill-opacity="0.7"/>
<circle cx="120.2" cy="226.9" r="1.8" fill="#cdcfd0" fill-opacity="0.7"/>
<circle cx="116.9" cy="237.0" r="1.8" fill="#cdcfd0" fill-opacity="0.7"/>
<circle cx="119.1" cy="244.1" r="1.8" fill="#cdcfd0" fill-opacity="0.7"/>
<circle cx="127.7" cy="268.5" r="1.8" fill="#cdcfd0" fill-opacity="0.7"/>
<circle cx="141.8" cy="267.5" r="1.8" fill="#cdcfd0" fill-opacity="0.7"/>
<circle cx="142.8" cy="274.6" r="1.8" fill="#cdcfd0" fill-opacity="0.7"/>
<circle cx="168.7" cy="267.5" r="1.8" fill="#cdcfd0" fill-opacity="0.7"/>
<circle cx="184.9" cy="262.4" r="1.8" fill="#cdcfd0" fill-opacity="0.7"/>
<circle cx="222.7" cy="214.7" r="1.8" fill="#cdcfd0" fill-opacity="0.7"/>
<circle cx="225.9" cy="216.8" r="1.8" fill="#cdcfd0" fill-opacity="0.7"/>
<circle cx="217.3" cy="218.8" r="1.8" fill="#cdcfd0" fill-opacity="0.7"/>
<circle cx="211.9" cy="221.8" r="1.8" fill="#cdcfd0" fill-opacity="0.7"/>
<rect x="123.42" y="250.05" width="2.6" height="3.2" fill="#7a2d8f"/>
<text x="128.22" y="254.45" font-size="7.25" font-weight="normal" text-anchor="start" fill="#222">Vorinostat</text>
<rect x="159.35" y="242.55" width="2.6" height="3.2" fill="#2a2a78"/>
<text x="164.15" y="246.95" font-size="7.25" font-weight="normal" text-anchor="start" fill="#222">Buparlisib</text>
<text x="295.40" y="197.25" font-size="8.4" font-weight="normal" text-anchor="start" fill="#222">Tumor organoid drug validation</text>
<polyline points="299.25,219.39 300.27,219.39 301.28,219.39 302.30,219.39 303.31,219.39 304.33,219.39 305.34,219.39 306.36,219.39 307.37,219.39 308.39,219.39 309.40,219.39 310.42,219.39 311.43,219.39 312.45,219.39 313.46,219.39 314.48,219.39 315.49,219.39 316.51,219.39 317.52,219.39 318.54,219.39 319.56,219.39 320.57,219.39 321.59,219.39 322.60,219.39 323.62,219.39 324.63,219.39 325.65,219.39 326.66,219.39 327.68,219.39 328.69,219.39 329.71,219.39 330.72,219.39 331.74,219.39 332.75,219.40 333.77,219.51 334.78,220.54 335.80,229.15 336.82,260.60 337.83,280.97 338.85,284.25 339.86,284.61 340.88,284.65 341.89,284.65 342.91,284.65 343.92,284.65 344.94,284.65 345.95,284.65 346.97,284.65 347.98,284.65 349.00,284.65 350.01,284.65 351.03,284.65 352.04,284.65 353.06,284.65 354.07,284.65 355.09,284.65 356.11,284.65 357.12,284.65 358.14,284.65 359.15,284.65 360.17,284.65 361.18,284.65 362.20,284.65 363.21,284.65 364.23,284.65 365.24,284.65 366.26,284.65 367.27,284.65 368.29,284.65 369.30,284.65 370.32,284.65 371.33,284.65 372.35,284.65 373.37,284.65 374.38,284.65 375.40,284.65 376.41,284.65 377.43,284.65 378.44,284.65 379.46,284.65 380.47,284.65 381.49,284.65 382.50,284.65 383.52,284.65 384.53,284.65 385.55,284.65 386.56,284.65 387.58,284.65 388.59,284.65 389.61,284.65 390.62,284.65" fill="none" stroke="#111" stroke-width="2.35" stroke-dasharray="1.8 2.6" stroke-linejoin="round"/>
<polyline points="299.25,218.70 300.27,218.70 301.28,218.70 302.30,218.70 303.31,218.70 304.33,218.70 305.34,218.70 306.36,218.70 307.37,218.70 308.39,218.70 309.40,218.70 310.42,218.70 311.43,218.70 312.45,218.70 313.46,218.70 314.48,218.70 315.49,218.70 316.51,218.70 317.52,218.70 318.54,218.70 319.56,218.70 320.57,218.70 321.59,218.70 322.60,218.70 323.62,218.70 324.63,218.70 325.65,218.70 326.66,218.70 327.68,218.70 328.69,218.70 329.71,218.70 330.72,218.70 331.74,218.70 332.75,218.70 333.77,218.70 334.78,218.70 335.80,218.71 336.82,218.71 337.83,218.71 338.85,218.71 339.86,218.71 340.88,218.71 341.89,218.72 342.91,218.72 343.92,218.72 344.94,218.73 345.95,218.73 346.97,218.74 347.98,218.75 349.00,218.76 350.01,218.77 351.03,218.78 352.04,218.80 353.06,218.82 354.07,218.84 355.09,218.87 356.11,218.91 357.12,218.95 358.14,218.99 359.15,219.05 360.17,219.12 361.18,219.20 362.20,219.30 363.21,219.41 364.23,219.55 365.24,219.71 366.26,219.91 367.27,220.14 368.29,220.41 369.30,220.73 370.32,221.10 371.33,221.55 372.35,222.07 373.37,222.67 374.38,223.37 375.40,224.18 376.41,225.12 377.43,226.18 378.44,227.38 379.46,228.72 380.47,230.22 381.49,231.85 382.50,233.63 383.52,235.53 384.53,237.54 385.55,239.62 386.56,241.76 387.58,243.90 388.59,246.04 389.61,248.12 390.62,250.11" fill="none" stroke="#111" stroke-width="1.65" stroke-dasharray="7 3" stroke-linejoin="round"/>
<polyline points="299.25,220.07 300.27,220.07 301.28,220.07 302.30,220.07 303.31,220.07 304.33,220.07 305.34,220.07 306.36,220.07 307.37,220.07 308.39,220.07 309.40,220.07 310.42,220.07 311.43,220.07 312.45,220.07 313.46,220.07 314.48,220.07 315.49,220.07 316.51,220.07 317.52,220.07 318.54,220.07 319.56,220.07 320.57,220.07 321.59,220.07 322.60,220.07 323.62,220.07 324.63,220.07 325.65,220.07 326.66,220.07 327.68,220.07 328.69,220.07 329.71,220.07 330.72,220.08 331.74,220.08 332.75,220.08 333.77,220.08 334.78,220.08 335.80,220.08 336.82,220.08 337.83,220.08 338.85,220.08 339.86,220.08 340.88,220.08 341.89,220.09 342.91,220.09 343.92,220.09 344.94,220.10 345.95,220.11 346.97,220.11 347.98,220.13 349.00,220.14 350.01,220.16 351.03,220.18 352.04,220.20 353.06,220.23 354.07,220.28 355.09,220.33 356.11,220.39 357.12,220.47 358.14,220.57 359.15,220.70 360.17,220.86 361.18,221.05 362.20,221.30 363.21,221.60 364.23,221.98 365.24,222.45 366.26,223.03 367.27,223.75 368.29,224.62 369.30,225.69 370.32,226.97 371.33,228.51 372.35,230.32 373.37,232.45 374.38,234.89 375.40,237.66 376.41,240.73 377.43,244.07 378.44,247.62 379.46,251.29 380.47,255.00 381.49,258.65 382.50,262.16 383.52,265.44 384.53,268.44 385.55,271.13 386.56,273.50 387.58,275.55 388.59,277.30 389.61,278.77 390.62,280.00" fill="none" stroke="#5cc6e4" stroke-width="1.55" stroke-linejoin="round"/>
<polyline points="299.25,217.33 300.27,217.33 301.28,217.33 302.30,217.33 303.31,217.33 304.33,217.33 305.34,217.33 306.36,217.33 307.37,217.33 308.39,217.33 309.40,217.33 310.42,217.33 311.43,217.33 312.45,217.33 313.46,217.33 314.48,217.33 315.49,217.33 316.51,217.33 317.52,217.33 318.54,217.33 319.56,217.33 320.57,217.33 321.59,217.33 322.60,217.33 323.62,217.33 324.63,217.33 325.65,217.33 326.66,217.33 327.68,217.33 328.69,217.33 329.71,217.33 330.72,217.33 331.74,217.33 332.75,217.33 333.77,217.33 334.78,217.33 335.80,217.33 336.82,217.33 337.83,217.33 338.85,217.33 339.86,217.33 340.88,217.33 341.89,217.33 342.91,217.33 343.92,217.33 344.94,217.34 345.95,217.34 346.97,217.35 347.98,217.37 349.00,217.39 350.01,217.42 351.03,217.47 352.04,217.54 353.06,217.65 354.07,217.82 355.09,218.08 356.11,218.47 357.12,219.06 358.14,219.93 359.15,221.23 360.17,223.10 361.18,225.77 362.20,229.43 363.21,234.24 364.23,240.18 365.24,247.01 366.26,254.23 367.27,261.24 368.29,267.48 369.30,272.63 370.32,276.62 371.33,279.55 372.35,281.64 373.37,283.09 374.38,284.07 375.40,284.73 376.41,285.17 377.43,285.47 378.44,285.66 379.46,285.78 380.47,285.87 381.49,285.92 382.50,285.96 383.52,285.98 384.53,286.00 385.55,286.01 386.56,286.01 387.58,286.02 388.59,286.02 389.61,286.02 390.62,286.02" fill="none" stroke="#cf58b4" stroke-width="1.25" stroke-linejoin="round"/>
<polyline points="299.25,215.95 300.27,215.95 301.28,215.95 302.30,215.95 303.31,215.95 304.33,215.95 305.34,215.95 306.36,215.95 307.37,215.95 308.39,215.95 309.40,215.95 310.42,215.95 311.43,215.95 312.45,215.95 313.46,215.95 314.48,215.95 315.49,215.95 316.51,215.95 317.52,215.95 318.54,215.95 319.56,215.95 320.57,215.95 321.59,215.95 322.60,215.95 323.62,215.95 324.63,215.95 325.65,215.95 326.66,215.95 327.68,215.95 328.69,215.95 329.71,215.95 330.72,215.95 331.74,215.95 332.75,215.95 333.77,215.95 334.78,215.95 335.80,215.95 336.82,215.95 337.83,215.95 338.85,215.95 339.86,215.95 340.88,215.95 341.89,215.95 342.91,215.95 343.92,215.95 344.94,215.95 345.95,215.95 346.97,215.95 347.98,215.95 349.00,215.95 350.01,215.95 351.03,215.96 352.04,215.96 353.06,215.96 354.07,215.96 355.09,215.97 356.11,215.98 357.12,216.00 358.14,216.03 359.15,216.07 360.17,216.14 361.18,216.25 362.20,216.42 363.21,216.69 364.23,217.11 365.24,217.77 366.26,218.77 367.27,220.30 368.29,222.58 369.30,225.86 370.32,230.42 371.33,236.38 372.35,243.61 373.37,251.60 374.38,259.60 375.40,266.84 376.41,272.83 377.43,277.41 378.44,280.72 379.46,283.02 380.47,284.56 381.49,285.57 382.50,286.23 383.52,286.65 384.53,286.92 385.55,287.10 386.56,287.21 387.58,287.28 388.59,287.32 389.61,287.35 390.62,287.37" fill="none" stroke="#8a1c8c" stroke-width="1.65" stroke-linejoin="round"/>
<polyline points="299.25,215.61 300.27,215.61 301.28,215.61 302.30,215.61 303.31,215.61 304.33,215.61 305.34,215.61 306.36,215.61 307.37,215.61 308.39,215.61 309.40,215.61 310.42,215.61 311.43,215.61 312.45,215.61 313.46,215.61 314.48,215.61 315.49,215.61 316.51,215.61 317.52,215.61 318.54,215.61 319.56,215.61 320.57,215.61 321.59,215.61 322.60,215.61 323.62,215.61 324.63,215.61 325.65,215.61 326.66,215.61 327.68,215.61 328.69,215.61 329.71,215.61 330.72,215.61 331.74,215.61 332.75,215.61 333.77,215.61 334.78,215.61 335.80,215.61 336.82,215.61 337.83,215.61 338.85,215.61 339.86,215.61 340.88,215.61 341.89,215.61 342.91,215.61 343.92,215.61 344.94,215.61 345.95,215.61 346.97,215.61 347.98,215.61 349.00,215.61 350.01,215.61 351.03,215.61 352.04,215.61 353.06,215.61 354.07,215.61 355.09,215.61 356.11,215.61 357.12,215.61 358.14,215.61 359.15,215.61 360.17,215.61 361.18,215.61 362.20,215.61 363.21,215.61 364.23,215.61 365.24,215.61 366.26,215.61 367.27,215.61 368.29,215.62 369.30,215.64 370.32,215.67 371.33,215.75 372.35,215.92 373.37,216.31 374.38,217.18 375.40,219.06 376.41,222.94 377.43,230.27 378.44,241.92 379.46,256.25 380.47,269.19 381.49,278.00 382.50,282.90 383.52,285.33 384.53,286.47 385.55,286.98 386.56,287.21 387.58,287.32 388.59,287.36 389.61,287.38 390.62,287.39" fill="none" stroke="#2b3990" stroke-width="1.65" stroke-linejoin="round"/>
<circle cx="338.88" cy="281.90" r="1.85" fill="#333"/>
<circle cx="351.81" cy="283.96" r="1.85" fill="#333"/>
<circle cx="364.75" cy="284.65" r="1.85" fill="#333"/>
<circle cx="377.69" cy="284.65" r="1.85" fill="#333"/>
<circle cx="390.62" cy="283.96" r="1.85" fill="#333"/>
<circle cx="377.69" cy="226.94" r="1.85" fill="#222"/>
<circle cx="390.62" cy="248.24" r="1.85" fill="#222"/>
<circle cx="298.62" cy="218.70" r="1.85" fill="#5cc6e4"/>
<circle cx="311.56" cy="222.13" r="1.85" fill="#5cc6e4"/>
<circle cx="325.94" cy="220.76" r="1.85" fill="#5cc6e4"/>
<circle cx="340.31" cy="220.76" r="1.85" fill="#5cc6e4"/>
<circle cx="351.81" cy="218.70" r="1.85" fill="#5cc6e4"/>
<circle cx="364.75" cy="225.57" r="1.85" fill="#5cc6e4"/>
<circle cx="377.69" cy="256.48" r="1.85" fill="#5cc6e4"/>
<circle cx="390.62" cy="280.53" r="1.85" fill="#5cc6e4"/>
<path d="M309.53 206.54h4.07l-2.035 3.7z" fill="#cf58b4"/>
<path d="M323.90 213.41h4.07l-2.035 3.7z" fill="#cf58b4"/>
<path d="M338.28 216.85h4.07l-2.035 3.7z" fill="#cf58b4"/>
<path d="M362.71 240.89h4.07l-2.035 3.7z" fill="#cf58b4"/>
<path d="M375.65 282.11h4.07l-2.035 3.7z" fill="#cf58b4"/>
<rect x="309.71" y="213.41" width="3.7" height="3.7" fill="#8a1c8c"/>
<rect x="324.09" y="212.73" width="3.7" height="3.7" fill="#8a1c8c"/>
<rect x="338.46" y="213.41" width="3.7" height="3.7" fill="#8a1c8c"/>
<rect x="362.90" y="218.22" width="3.7" height="3.7" fill="#8a1c8c"/>
<rect x="375.84" y="280.05" width="3.7" height="3.7" fill="#8a1c8c"/>
<rect x="388.77" y="284.18" width="3.7" height="3.7" fill="#8a1c8c"/>
<circle cx="325.94" cy="213.20" r="1.85" fill="#2b3990"/>
<circle cx="340.31" cy="213.20" r="1.85" fill="#2b3990"/>
<circle cx="351.81" cy="211.83" r="1.85" fill="#2b3990"/>
<circle cx="364.75" cy="213.89" r="1.85" fill="#2b3990"/>
<circle cx="377.69" cy="226.94" r="1.85" fill="#2b3990"/>
<circle cx="390.62" cy="284.65" r="1.85" fill="#2b3990"/>
<line x1="299.25" y1="204.36" x2="299.25" y2="288.10" stroke="#222" stroke-width="1.4"/>
<line x1="298.55" y1="287.40" x2="405.60" y2="287.40" stroke="#222" stroke-width="1.4"/>
<line x1="296.35" y1="287.40" x2="299.25" y2="287.40" stroke="#222" stroke-width="1.1"/>
<text x="294.65" y="290.30" font-size="8.2" font-weight="normal" text-anchor="end" fill="#222">0.0</text>
<line x1="296.35" y1="259.92" x2="299.25" y2="259.92" stroke="#222" stroke-width="1.1"/>
<text x="294.65" y="262.82" font-size="8.2" font-weight="normal" text-anchor="end" fill="#222">0.4</text>
<line x1="296.35" y1="232.44" x2="299.25" y2="232.44" stroke="#222" stroke-width="1.1"/>
<text x="294.65" y="235.34" font-size="8.2" font-weight="normal" text-anchor="end" fill="#222">0.8</text>
<line x1="296.35" y1="204.96" x2="299.25" y2="204.96" stroke="#222" stroke-width="1.1"/>
<text x="294.65" y="207.86" font-size="8.2" font-weight="normal" text-anchor="end" fill="#222">1.2</text>
<line x1="318.75" y1="287.40" x2="318.75" y2="290.30" stroke="#222" stroke-width="1.1"/>
<text x="317.55" y="299.60" font-size="8.2" font-weight="normal" text-anchor="middle" fill="#222">−4</text>
<line x1="347.50" y1="287.40" x2="347.50" y2="290.30" stroke="#222" stroke-width="1.1"/>
<text x="346.30" y="299.60" font-size="8.2" font-weight="normal" text-anchor="middle" fill="#222">−2</text>
<line x1="376.25" y1="287.40" x2="376.25" y2="290.30" stroke="#222" stroke-width="1.1"/>
<text x="376.25" y="299.60" font-size="8.2" font-weight="normal" text-anchor="middle" fill="#222">0</text>
<line x1="405.00" y1="287.40" x2="405.00" y2="290.30" stroke="#222" stroke-width="1.1"/>
<text x="405.00" y="299.60" font-size="8.2" font-weight="normal" text-anchor="middle" fill="#222">2</text>
<text x="297.25" y="299.60" font-size="8.2" font-weight="normal" text-anchor="middle" fill="#222">−6</text>
<text x="352.00" y="312.60" font-size="8.2" font-weight="normal" text-anchor="middle" fill="#222">log[Agonist], µmol/L</text>
<text x="275.70" y="246.00" font-size="8.3" font-weight="normal" text-anchor="middle" fill="#222" transform="rotate(-90 275.70 246.00)">% Cell viability</text>
<line x1="401.30" y1="217.00" x2="410.00" y2="217.00" stroke="#2b3990" stroke-width="1.5"/>
<circle cx="405.60" cy="217.00" r="1.6" fill="#2b3990"/>
<text x="412.40" y="219.60" font-size="7.35" font-weight="normal" text-anchor="start" fill="#222">Buparlisib [IC<tspan font-size="5" dy="1.6">50</tspan><tspan dy="-1.6"> ~ 1.541 µmol/L]</tspan></text>
<line x1="401.30" y1="226.25" x2="410.00" y2="226.25" stroke="#5cc6e4" stroke-width="1.5"/>
<circle cx="405.60" cy="226.25" r="1.6" fill="#5cc6e4"/>
<text x="412.40" y="228.85" font-size="7.35" font-weight="normal" text-anchor="start" fill="#222">GDC0980 [IC<tspan font-size="5" dy="1.6">50</tspan><tspan dy="-1.6"> ~ 0.4 µmol/L]</tspan></text>
<line x1="401.30" y1="235.60" x2="410.00" y2="235.60" stroke="#8a1c8c" stroke-width="1.5"/>
<rect x="404.00" y="234.00" width="3.2" height="3.2" fill="#8a1c8c"/>
<text x="412.40" y="238.20" font-size="7.35" font-weight="normal" text-anchor="start" fill="#222">Vorinostat [IC<tspan font-size="5" dy="1.6">50</tspan><tspan dy="-1.6"> ~ 0.55 µmol/L]</tspan></text>
<line x1="401.30" y1="244.90" x2="410.00" y2="244.90" stroke="#cf58b4" stroke-width="1.5"/>
<path d="M403.68 244.90h3.84M405.60 242.98v3.84" stroke="#cf58b4" stroke-width="1"/>
<text x="412.40" y="247.50" font-size="7.35" font-weight="normal" text-anchor="start" fill="#222">Belinostat [IC<tspan font-size="5" dy="1.6">50</tspan><tspan dy="-1.6"> ~ 0.20 µmol/L]</tspan></text>
<rect x="401.0" y="252.00" width="2" height="2" fill="#111"/>
<rect x="404.6" y="252.00" width="2" height="2" fill="#111"/>
<rect x="408.2" y="252.00" width="2" height="2" fill="#111"/>
<text x="412.40" y="255.60" font-size="7.35" font-weight="normal" text-anchor="start" fill="#222">Paclitaxel [IC<tspan font-size="5" dy="1.6">50</tspan><tspan dy="-1.6"> ~ 0.0017 µmol/L]</tspan></text>
<line x1="401.30" y1="261.30" x2="410.00" y2="261.30" stroke="#111" stroke-width="1.5"/>
<text x="412.40" y="263.90" font-size="7.35" font-weight="normal" text-anchor="start" fill="#222">Carboplatin [IC<tspan font-size="5" dy="1.6">50</tspan><tspan dy="-1.6"> undefined]</tspan></text>
<text x="1.60" y="332.40" font-size="8.27" font-weight="bold" text-anchor="start" fill="#1a1a1a">Patient C; colorectal cancer</text>
<text x="1.60" y="342.00" font-size="8.42" font-weight="normal" text-anchor="start" fill="#222">Genomic alteration detected: <tspan font-style="italic">KRAS</tspan>mut, <tspan font-style="italic">TP53</tspan>mut, <tspan font-style="italic">APC</tspan>mut</text>
<text x="2.20" y="361.30" font-size="13.1" font-weight="bold" text-anchor="start" fill="#111">G</text>
<text x="71.60" y="361.30" font-size="13.1" font-weight="bold" text-anchor="start" fill="#111">H</text>
<text x="272.80" y="361.30" font-size="13.1" font-weight="bold" text-anchor="start" fill="#111">I</text>
<rect x="21.9" y="359.00" width="5.00" height="110.90" fill="url(#gn)"/>
<rect x="33.4" y="358.70" width="13.40" height="111.20" fill="url(#gh2)"/>
<ellipse cx="44.0" cy="364.48" rx="2.3" ry="1.9" fill="#101020"/>
<ellipse cx="43.8" cy="468.01" rx="2.3" ry="1.9" fill="#101020"/>
<text x="6.90" y="414.20" font-size="8.3" font-weight="normal" text-anchor="middle" fill="#222" transform="rotate(-90 6.90 414.20)">Single compound screen</text>
<text x="19.40" y="357.30" font-size="6.9" font-weight="normal" text-anchor="end" fill="#222" transform="rotate(-90 19.40 357.30)">Resistance</text>
<text x="18.60" y="469.90" font-size="7.1000000000000005" font-weight="normal" text-anchor="start" fill="#222" transform="rotate(-90 18.60 469.90)">Sensitivity</text>
<text x="55.60" y="414.20" font-size="8.3" font-weight="normal" text-anchor="middle" fill="#222" transform="rotate(-90 55.60 414.20)">Normalized AUC</text>
<text x="52.50" y="364.00" font-size="7.8" font-weight="normal" text-anchor="start" fill="#222">1</text>
<text x="52.60" y="470.50" font-size="7.8" font-weight="normal" text-anchor="start" fill="#222">0</text>
<text x="178.40" y="360.75" font-size="8.35" font-weight="normal" text-anchor="middle" fill="#222">High-throughput single compound screen</text>
<rect x="97.8" y="368.75" width="163.00" height="85.35" fill="none" stroke="#383838" stroke-width="1.15"/>
<line x1="95.10" y1="372.00" x2="97.80" y2="372.00" stroke="#383838" stroke-width="1.0"/>
<text x="92.60" y="374.90" font-size="8.2" font-weight="normal" text-anchor="end" fill="#222">1</text>
<line x1="95.10" y1="391.81" x2="97.80" y2="391.81" stroke="#383838" stroke-width="1.0"/>
<text x="92.60" y="394.71" font-size="8.2" font-weight="normal" text-anchor="end" fill="#222">0</text>
<line x1="95.10" y1="411.62" x2="97.80" y2="411.62" stroke="#383838" stroke-width="1.0"/>
<text x="92.60" y="414.52" font-size="8.2" font-weight="normal" text-anchor="end" fill="#222">−1</text>
<line x1="95.10" y1="431.44" x2="97.80" y2="431.44" stroke="#383838" stroke-width="1.0"/>
<text x="92.60" y="434.34" font-size="8.2" font-weight="normal" text-anchor="end" fill="#222">−2</text>
<line x1="95.10" y1="451.25" x2="97.80" y2="451.25" stroke="#383838" stroke-width="1.0"/>
<text x="92.60" y="454.15" font-size="8.2" font-weight="normal" text-anchor="end" fill="#222">−3</text>
<line x1="104.00" y1="454.10" x2="104.00" y2="456.80" stroke="#383838" stroke-width="1.0"/>
<text x="104.00" y="465.60" font-size="8.2" font-weight="normal" text-anchor="middle" fill="#222">0.0</text>
<line x1="125.58" y1="454.10" x2="125.58" y2="456.80" stroke="#383838" stroke-width="1.0"/>
<text x="125.58" y="465.60" font-size="8.2" font-weight="normal" text-anchor="middle" fill="#222">0.2</text>
<line x1="147.16" y1="454.10" x2="147.16" y2="456.80" stroke="#383838" stroke-width="1.0"/>
<text x="147.16" y="465.60" font-size="8.2" font-weight="normal" text-anchor="middle" fill="#222">0.4</text>
<line x1="168.74" y1="454.10" x2="168.74" y2="456.80" stroke="#383838" stroke-width="1.0"/>
<text x="168.74" y="465.60" font-size="8.2" font-weight="normal" text-anchor="middle" fill="#222">0.6</text>
<line x1="190.32" y1="454.10" x2="190.32" y2="456.80" stroke="#383838" stroke-width="1.0"/>
<text x="190.32" y="465.60" font-size="8.2" font-weight="normal" text-anchor="middle" fill="#222">0.8</text>
<line x1="211.90" y1="454.10" x2="211.90" y2="456.80" stroke="#383838" stroke-width="1.0"/>
<text x="211.90" y="465.60" font-size="8.2" font-weight="normal" text-anchor="middle" fill="#222">1.0</text>
<line x1="233.48" y1="454.10" x2="233.48" y2="456.80" stroke="#383838" stroke-width="1.0"/>
<text x="233.48" y="465.60" font-size="8.2" font-weight="normal" text-anchor="middle" fill="#222">1.2</text>
<line x1="255.06" y1="454.10" x2="255.06" y2="456.80" stroke="#383838" stroke-width="1.0"/>
<text x="255.06" y="465.60" font-size="8.2" font-weight="normal" text-anchor="middle" fill="#222">1.4</text>
<text x="179.60" y="478.10" font-size="8.4" font-weight="normal" text-anchor="middle" fill="#222">Normalized AUC</text>
<text x="78.80" y="412.03" font-size="8.5" font-weight="normal" text-anchor="middle" fill="#222" transform="rotate(-90 78.80 412.03)">AUC Z-score</text>
<circle cx="132.8" cy="434.3" r="1.8" fill="#cdcfd0" fill-opacity="0.7"/>
<circle cx="160.4" cy="417.4" r="1.8" fill="#cdcfd0" fill-opacity="0.7"/>
<circle cx="162.1" cy="413.5" r="1.8" fill="#cdcfd0" fill-opacity="0.7"/>
<circle cx="178.0" cy="407.4" r="1.8" fill="#cdcfd0" fill-opacity="0.7"/>
<circle cx="134.4" cy="423.8" r="1.8" fill="#cdcfd0" fill-opacity="0.7"/>
<circle cx="150.3" cy="393.6" r="1.8" fill="#cdcfd0" fill-opacity="0.7"/>
<circle cx="178.0" cy="419.1" r="1.8" fill="#cdcfd0" fill-opacity="0.7"/>
<circle cx="126.2" cy="428.1" r="1.8" fill="#cdcfd0" fill-opacity="0.7"/>
<circle cx="162.7" cy="407.8" r="1.8" fill="#cdcfd0" fill-opacity="0.7"/>
<circle cx="170.8" cy="418.1" r="1.8" fill="#cdcfd0" fill-opacity="0.7"/>
<circle cx="165.5" cy="400.9" r="1.8" fill="#cdcfd0" fill-opacity="0.7"/>
<circle cx="159.4" cy="410.5" r="1.8" fill="#cdcfd0" fill-opacity="0.7"/>
<circle cx="137.5" cy="409.4" r="1.8" fill="#cdcfd0" fill-opacity="0.7"/>
<circle cx="150.5" cy="416.5" r="1.8" fill="#cdcfd0" fill-opacity="0.7"/>
<circle cx="169.1" cy="402.6" r="1.8" fill="#cdcfd0" fill-opacity="0.7"/>
<circle cx="184.4" cy="413.9" r="1.8" fill="#cdcfd0" fill-opacity="0.7"/>
<circle cx="144.6" cy="419.3" r="1.8" fill="#cdcfd0" fill-opacity="0.7"/>
<circle cx="185.5" cy="412.9" r="1.8" fill="#cdcfd0" fill-opacity="0.7"/>
<circle cx="181.2" cy="403.1" r="1.8" fill="#cdcfd0" fill-opacity="0.7"/>
<circle cx="131.2" cy="425.2" r="1.8" fill="#cdcfd0" fill-opacity="0.7"/>
<circle cx="187.7" cy="414.1" r="1.8" fill="#cdcfd0" fill-opacity="0.7"/>
<circle cx="137.5" cy="420.7" r="1.8" fill="#cdcfd0" fill-opacity="0.7"/>
<circle cx="153.1" cy="424.0" r="1.8" fill="#cdcfd0" fill-opacity="0.7"/>
<circle cx="159.0" cy="411.1" r="1.8" fill="#cdcfd0" fill-opacity="0.7"/>
<circle cx="158.9" cy="406.1" r="1.8" fill="#cdcfd0" fill-opacity="0.7"/>
<circle cx="185.0" cy="411.8" r="1.8" fill="#cdcfd0" fill-opacity="0.7"/>
<circle cx="179.5" cy="395.5" r="1.8" fill="#cdcfd0" fill-opacity="0.7"/>
<circle cx="127.1" cy="430.1" r="1.8" fill="#cdcfd0" fill-opacity="0.7"/>
<circle cx="179.8" cy="390.4" r="1.8" fill="#cdcfd0" fill-opacity="0.7"/>
<circle cx="157.8" cy="420.2" r="1.8" fill="#cdcfd0" fill-opacity="0.7"/>
<circle cx="227.3" cy="383.4" r="1.8" fill="#cdcfd0" fill-opacity="0.7"/>
<circle cx="219.0" cy="379.5" r="1.8" fill="#cdcfd0" fill-opacity="0.7"/>
<circle cx="201.8" cy="386.9" r="1.8" fill="#cdcfd0" fill-opacity="0.7"/>
<circle cx="243.7" cy="374.8" r="1.8" fill="#cdcfd0" fill-opacity="0.7"/>
<circle cx="190.2" cy="399.8" r="1.8" fill="#cdcfd0" fill-opacity="0.7"/>
<circle cx="193.9" cy="405.1" r="1.8" fill="#cdcfd0" fill-opacity="0.7"/>
<circle cx="202.4" cy="395.1" r="1.8" fill="#cdcfd0" fill-opacity="0.7"/>
<circle cx="187.5" cy="413.4" r="1.8" fill="#cdcfd0" fill-opacity="0.7"/>
<circle cx="221.4" cy="380.1" r="1.8" fill="#cdcfd0" fill-opacity="0.7"/>
<circle cx="204.6" cy="393.0" r="1.8" fill="#cdcfd0" fill-opacity="0.7"/>
<circle cx="237.2" cy="375.3" r="1.8" fill="#cdcfd0" fill-opacity="0.7"/>
<circle cx="244.2" cy="379.4" r="1.8" fill="#cdcfd0" fill-opacity="0.7"/>
<circle cx="203.3" cy="389.5" r="1.8" fill="#cdcfd0" fill-opacity="0.7"/>
<circle cx="186.8" cy="399.5" r="1.8" fill="#cdcfd0" fill-opacity="0.7"/>
<circle cx="196.6" cy="404.9" r="1.8" fill="#cdcfd0" fill-opacity="0.7"/>
<circle cx="194.2" cy="395.8" r="1.8" fill="#cdcfd0" fill-opacity="0.7"/>
<circle cx="187.4" cy="399.5" r="1.8" fill="#cdcfd0" fill-opacity="0.7"/>
<circle cx="241.8" cy="383.1" r="1.8" fill="#cdcfd0" fill-opacity="0.7"/>
<circle cx="238.1" cy="385.5" r="1.8" fill="#cdcfd0" fill-opacity="0.7"/>
<circle cx="215.8" cy="386.5" r="1.8" fill="#cdcfd0" fill-opacity="0.7"/>
<circle cx="223.1" cy="393.2" r="1.8" fill="#cdcfd0" fill-opacity="0.7"/>
<circle cx="221.7" cy="392.0" r="1.8" fill="#cdcfd0" fill-opacity="0.7"/>
<circle cx="240.7" cy="385.8" r="1.8" fill="#cdcfd0" fill-opacity="0.7"/>
<circle cx="227.7" cy="385.9" r="1.8" fill="#cdcfd0" fill-opacity="0.7"/>
<circle cx="199.0" cy="402.4" r="1.8" fill="#cdcfd0" fill-opacity="0.7"/>
<circle cx="215.9" cy="376.6" r="1.8" fill="#cdcfd0" fill-opacity="0.7"/>
<circle cx="217.5" cy="384.4" r="1.8" fill="#cdcfd0" fill-opacity="0.7"/>
<circle cx="219.3" cy="388.8" r="1.8" fill="#cdcfd0" fill-opacity="0.7"/>
<circle cx="186.1" cy="408.8" r="1.8" fill="#cdcfd0" fill-opacity="0.7"/>
<circle cx="188.5" cy="407.2" r="1.8" fill="#cdcfd0" fill-opacity="0.7"/>
<circle cx="222.2" cy="395.9" r="1.8" fill="#cdcfd0" fill-opacity="0.7"/>
<circle cx="205.8" cy="393.2" r="1.8" fill="#cdcfd0" fill-opacity="0.7"/>
<circle cx="226.9" cy="386.1" r="1.8" fill="#cdcfd0" fill-opacity="0.7"/>
<circle cx="188.5" cy="403.3" r="1.8" fill="#cdcfd0" fill-opacity="0.7"/>
<circle cx="225.0" cy="382.8" r="1.8" fill="#cdcfd0" fill-opacity="0.7"/>
<circle cx="212.0" cy="393.2" r="1.8" fill="#cdcfd0" fill-opacity="0.7"/>
<circle cx="220.1" cy="391.0" r="1.8" fill="#cdcfd0" fill-opacity="0.7"/>
<circle cx="203.5" cy="391.3" r="1.8" fill="#cdcfd0" fill-opacity="0.7"/>
<circle cx="206.8" cy="398.2" r="1.8" fill="#cdcfd0" fill-opacity="0.7"/>
<circle cx="207.3" cy="396.8" r="1.8" fill="#cdcfd0" fill-opacity="0.7"/>
<circle cx="230.8" cy="377.5" r="1.8" fill="#cdcfd0" fill-opacity="0.7"/>
<circle cx="228.6" cy="384.1" r="1.8" fill="#cdcfd0" fill-opacity="0.7"/>
<circle cx="203.3" cy="394.3" r="1.8" fill="#cdcfd0" fill-opacity="0.7"/>
<circle cx="199.1" cy="388.2" r="1.8" fill="#cdcfd0" fill-opacity="0.7"/>
<circle cx="196.0" cy="406.6" r="1.8" fill="#cdcfd0" fill-opacity="0.7"/>
<circle cx="110.5" cy="409.6" r="1.8" fill="#cdcfd0" fill-opacity="0.7"/>
<circle cx="120.2" cy="425.5" r="1.8" fill="#cdcfd0" fill-opacity="0.7"/>
<circle cx="123.4" cy="435.4" r="1.8" fill="#cdcfd0" fill-opacity="0.7"/>
<circle cx="136.4" cy="448.3" r="1.8" fill="#cdcfd0" fill-opacity="0.7"/>
<circle cx="138.5" cy="442.3" r="1.8" fill="#cdcfd0" fill-opacity="0.7"/>
<circle cx="153.6" cy="445.3" r="1.8" fill="#cdcfd0" fill-opacity="0.7"/>
<circle cx="233.5" cy="374.0" r="1.8" fill="#cdcfd0" fill-opacity="0.7"/>
<circle cx="242.1" cy="376.0" r="1.8" fill="#cdcfd0" fill-opacity="0.7"/>
<circle cx="248.6" cy="373.0" r="1.8" fill="#cdcfd0" fill-opacity="0.7"/>
<circle cx="222.7" cy="377.0" r="1.8" fill="#cdcfd0" fill-opacity="0.7"/>
<rect x="203.29" y="390.80" width="3.2" height="4.0" fill="#e02c3a"/>
<text x="208.39" y="395.60" font-size="7.25" font-weight="normal" text-anchor="start" fill="#222">Afatinib</text>
<rect x="152.33" y="416.56" width="2.6" height="3.2" fill="#2a3a9c"/>
<text x="157.13" y="420.96" font-size="7.25" font-weight="normal" text-anchor="start" fill="#222">Trametinib</text>
<text x="294.50" y="358.90" font-size="8.4" font-weight="normal" text-anchor="start" fill="#222">Tumor organoid drug validation</text>
<polyline points="298.75,374.78 299.77,374.78 300.79,374.78 301.81,374.78 302.83,374.78 303.85,374.78 304.88,374.78 305.90,374.78 306.92,374.78 307.94,374.78 308.96,374.78 309.98,374.78 311.00,374.78 312.02,374.78 313.04,374.78 314.06,374.78 315.08,374.78 316.10,374.78 317.12,374.78 318.15,374.78 319.17,374.78 320.19,374.78 321.21,374.78 322.23,374.78 323.25,374.78 324.27,374.78 325.29,374.78 326.31,374.79 327.33,374.79 328.35,374.79 329.38,374.79 330.40,374.79 331.42,374.79 332.44,374.80 333.46,374.80 334.48,374.80 335.50,374.81 336.52,374.81 337.54,374.82 338.56,374.83 339.58,374.84 340.60,374.85 341.62,374.86 342.65,374.88 343.67,374.90 344.69,374.92 345.71,374.95 346.73,374.98 347.75,375.02 348.77,375.07 349.79,375.13 350.81,375.19 351.83,375.27 352.85,375.37 353.88,375.48 354.90,375.62 355.92,375.78 356.94,375.97 357.96,376.20 358.98,376.46 360.00,376.78 361.02,377.15 362.04,377.58 363.06,378.08 364.08,378.66 365.10,379.33 366.12,380.10 367.15,380.97 368.17,381.96 369.19,383.05 370.21,384.27 371.23,385.59 372.25,387.01 373.27,388.53 374.29,390.12 375.31,391.75 376.33,393.41 377.35,395.07 378.38,396.70 379.40,398.27 380.42,399.77 381.44,401.18 382.46,402.49 383.48,403.68 384.50,404.76 385.52,405.73 386.54,406.58 387.56,407.33 388.58,407.99 389.60,408.56 390.62,409.05" fill="none" stroke="#111" stroke-width="2.35" stroke-dasharray="1.8 2.6" stroke-linejoin="round"/>
<polyline points="298.75,381.63 299.77,381.63 300.79,381.63 301.81,381.63 302.83,381.63 303.85,381.63 304.88,381.63 305.90,381.63 306.92,381.63 307.94,381.63 308.96,381.63 309.98,381.63 311.00,381.63 312.02,381.63 313.04,381.63 314.06,381.63 315.08,381.63 316.10,381.63 317.12,381.63 318.15,381.63 319.17,381.63 320.19,381.63 321.21,381.63 322.23,381.63 323.25,381.63 324.27,381.63 325.29,381.63 326.31,381.63 327.33,381.63 328.35,381.63 329.38,381.63 330.40,381.63 331.42,381.63 332.44,381.63 333.46,381.63 334.48,381.63 335.50,381.63 336.52,381.63 337.54,381.63 338.56,381.63 339.58,381.63 340.60,381.63 341.62,381.63 342.65,381.63 343.67,381.63 344.69,381.63 345.71,381.63 346.73,381.63 347.75,381.63 348.77,381.63 349.79,381.63 350.81,381.63 351.83,381.63 352.85,381.63 353.88,381.63 354.90,381.64 355.92,381.66 356.94,381.73 357.96,381.94 358.98,382.60 360.00,384.57 361.02,389.95 362.04,401.53 363.06,417.36 364.08,429.48 365.10,435.27 366.12,437.42 367.15,438.14 368.17,438.38 369.19,438.45 370.21,438.47 371.23,438.48 372.25,438.48 373.27,438.48 374.29,438.48 375.31,438.48 376.33,438.48 377.35,438.48 378.38,438.48 379.40,438.48 380.42,438.48 381.44,438.48 382.46,438.48 383.48,438.48 384.50,438.48 385.52,438.48 386.54,438.48 387.56,438.48 388.58,438.48 389.60,438.48 390.62,438.48" fill="none" stroke="#111" stroke-width="1.65" stroke-dasharray="7 3" stroke-linejoin="round"/>
<polyline points="298.75,386.09 299.77,386.19 300.79,386.30 301.81,386.41 302.83,386.55 303.85,386.69 304.88,386.84 305.90,387.00 306.92,387.16 307.94,387.34 308.96,387.52 309.98,387.71 311.00,387.91 312.02,388.11 313.04,388.31 314.06,388.52 315.08,388.73 316.10,388.95 317.12,389.16 318.15,389.38 319.17,389.59 320.19,389.80 321.21,390.00 322.23,390.22 323.25,390.43 324.27,390.65 325.29,390.87 326.31,391.10 327.33,391.33 328.35,391.57 329.38,391.80 330.40,392.05 331.42,392.29 332.44,392.54 333.46,392.80 334.48,393.06 335.50,393.33 336.52,393.60 337.54,393.87 338.56,394.15 339.58,394.44 340.60,394.73 341.62,395.03 342.65,395.33 343.67,395.65 344.69,395.97 345.71,396.30 346.73,396.63 347.75,396.97 348.77,397.32 349.79,397.67 350.81,398.02 351.83,398.37 352.85,398.72 353.88,399.08 354.90,399.44 355.92,399.79 356.94,400.15 357.96,400.50 358.98,400.86 360.00,401.20 361.02,401.55 362.04,401.92 363.06,402.42 364.08,402.92 365.10,403.41 366.12,403.89 367.15,404.37 368.17,404.86 369.19,405.34 370.21,405.84 371.23,406.34 372.25,406.85 373.27,407.38 374.29,407.93 375.31,408.49 376.33,409.08 377.35,409.71 378.38,410.41 379.40,411.15 380.42,411.92 381.44,412.71 382.46,413.51 383.48,414.31 384.50,415.08 385.52,415.83 386.54,416.52 387.56,417.17 388.58,417.74 389.60,418.23 390.62,418.62" fill="none" stroke="#e2282e" stroke-width="1.65" stroke-linejoin="round"/>
<polyline points="298.75,381.01 299.77,381.02 300.79,381.03 301.81,381.05 302.83,381.07 303.85,381.09 304.88,381.11 305.90,381.14 306.92,381.17 307.94,381.21 308.96,381.25 309.98,381.30 311.00,381.36 312.02,381.43 313.04,381.51 314.06,381.61 315.08,381.72 316.10,381.85 317.12,382.00 318.15,382.17 319.17,382.37 320.19,382.61 321.21,382.88 322.23,383.19 323.25,383.55 324.27,383.97 325.29,384.45 326.31,385.00 327.33,385.63 328.35,386.35 329.38,387.17 330.40,388.10 331.42,389.14 332.44,390.31 333.46,391.62 334.48,393.07 335.50,394.66 336.52,396.40 337.54,398.29 338.56,400.31 339.58,402.45 340.60,404.70 341.62,407.04 342.65,409.44 343.67,411.88 344.69,414.33 345.71,416.75 346.73,419.12 347.75,421.42 348.77,423.61 349.79,425.69 350.81,427.64 351.83,429.45 352.85,431.11 353.88,432.63 354.90,434.00 355.92,435.24 356.94,436.34 357.96,437.32 358.98,438.19 360.00,438.95 361.02,439.63 362.04,440.21 363.06,440.72 364.08,441.17 365.10,441.56 366.12,441.89 367.15,442.18 368.17,442.43 369.19,442.65 370.21,442.83 371.23,442.99 372.25,443.13 373.27,443.25 374.29,443.35 375.31,443.44 376.33,443.51 377.35,443.58 378.38,443.63 379.40,443.68 380.42,443.72 381.44,443.76 382.46,443.79 383.48,443.81 384.50,443.83 385.52,443.85 386.54,443.87 387.56,443.88 388.58,443.89 389.60,443.90 390.62,443.91" fill="none" stroke="#1f3c94" stroke-width="1.65" stroke-linejoin="round"/>
<path d="M309.97 370.59h3.19l-1.595 2.9z" fill="#222"/>
<path d="M324.34 371.28h3.19l-1.595 2.9z" fill="#222"/>
<path d="M337.28 373.33h3.19l-1.595 2.9z" fill="#222"/>
<path d="M350.22 371.96h3.19l-1.595 2.9z" fill="#222"/>
<path d="M363.15 379.50h3.19l-1.595 2.9z" fill="#222"/>
<path d="M376.09 391.82h3.19l-1.595 2.9z" fill="#222"/>
<path d="M389.03 405.53h3.19l-1.595 2.9z" fill="#222"/>
<circle cx="325.94" cy="381.63" r="1.45" fill="#222"/>
<circle cx="364.75" cy="422.73" r="1.45" fill="#222"/>
<circle cx="377.69" cy="431.63" r="1.45" fill="#222"/>
<circle cx="390.62" cy="442.60" r="1.45" fill="#222"/>
<circle cx="298.62" cy="383.00" r="1.45" fill="#e2282e"/>
<circle cx="311.56" cy="391.22" r="1.45" fill="#e2282e"/>
<circle cx="325.94" cy="393.96" r="1.45" fill="#e2282e"/>
<circle cx="338.88" cy="393.96" r="1.45" fill="#e2282e"/>
<circle cx="351.81" cy="404.92" r="1.45" fill="#e2282e"/>
<circle cx="364.75" cy="400.12" r="1.45" fill="#e2282e"/>
<circle cx="377.69" cy="406.98" r="1.45" fill="#e2282e"/>
<circle cx="390.62" cy="421.36" r="1.45" fill="#e2282e"/>
<rect x="297.18" y="380.18" width="2.9" height="2.9" fill="#1f3c94"/>
<rect x="310.11" y="379.50" width="2.9" height="2.9" fill="#1f3c94"/>
<rect x="324.49" y="389.77" width="2.9" height="2.9" fill="#1f3c94"/>
<rect x="337.43" y="400.05" width="2.9" height="2.9" fill="#1f3c94"/>
<rect x="350.36" y="426.07" width="2.9" height="2.9" fill="#1f3c94"/>
<rect x="363.30" y="439.78" width="2.9" height="2.9" fill="#1f3c94"/>
<rect x="376.24" y="441.83" width="2.9" height="2.9" fill="#1f3c94"/>
<rect x="389.18" y="442.51" width="2.9" height="2.9" fill="#1f3c94"/>
<line x1="298.75" y1="368.70" x2="298.75" y2="452.20" stroke="#222" stroke-width="1.4"/>
<line x1="298.05" y1="451.50" x2="405.60" y2="451.50" stroke="#222" stroke-width="1.4"/>
<line x1="295.85" y1="451.50" x2="298.75" y2="451.50" stroke="#222" stroke-width="1.1"/>
<text x="294.15" y="454.40" font-size="8.2" font-weight="normal" text-anchor="end" fill="#222">0.0</text>
<line x1="295.85" y1="424.10" x2="298.75" y2="424.10" stroke="#222" stroke-width="1.1"/>
<text x="294.15" y="427.00" font-size="8.2" font-weight="normal" text-anchor="end" fill="#222">0.4</text>
<line x1="295.85" y1="396.70" x2="298.75" y2="396.70" stroke="#222" stroke-width="1.1"/>
<text x="294.15" y="399.60" font-size="8.2" font-weight="normal" text-anchor="end" fill="#222">0.8</text>
<line x1="295.85" y1="369.30" x2="298.75" y2="369.30" stroke="#222" stroke-width="1.1"/>
<text x="294.15" y="372.20" font-size="8.2" font-weight="normal" text-anchor="end" fill="#222">1.2</text>
<line x1="318.75" y1="451.50" x2="318.75" y2="454.40" stroke="#222" stroke-width="1.1"/>
<text x="317.55" y="463.70" font-size="8.2" font-weight="normal" text-anchor="middle" fill="#222">−4</text>
<line x1="347.50" y1="451.50" x2="347.50" y2="454.40" stroke="#222" stroke-width="1.1"/>
<text x="346.30" y="463.70" font-size="8.2" font-weight="normal" text-anchor="middle" fill="#222">−2</text>
<line x1="376.25" y1="451.50" x2="376.25" y2="454.40" stroke="#222" stroke-width="1.1"/>
<text x="376.25" y="463.70" font-size="8.2" font-weight="normal" text-anchor="middle" fill="#222">0</text>
<line x1="405.00" y1="451.50" x2="405.00" y2="454.40" stroke="#222" stroke-width="1.1"/>
<text x="405.00" y="463.70" font-size="8.2" font-weight="normal" text-anchor="middle" fill="#222">2</text>
<text x="296.75" y="463.70" font-size="8.2" font-weight="normal" text-anchor="middle" fill="#222">−6</text>
<text x="352.00" y="476.50" font-size="8.2" font-weight="normal" text-anchor="middle" fill="#222">log[Agonist], µmol/L</text>
<text x="275.60" y="410.40" font-size="8.2" font-weight="normal" text-anchor="middle" fill="#222" transform="rotate(-90 275.60 410.40)">% Cell viability</text>
<line x1="401.30" y1="379.50" x2="410.00" y2="379.50" stroke="#1f3c94" stroke-width="1.5"/>
<circle cx="405.60" cy="379.50" r="1.6" fill="#1f3c94"/>
<text x="412.40" y="382.10" font-size="7.35" font-weight="normal" text-anchor="start" fill="#222">Trametinib [IC<tspan font-size="5" dy="1.6">50</tspan><tspan dy="-1.6"> ~ 0.006 µmol/L]</tspan></text>
<line x1="401.30" y1="390.50" x2="410.00" y2="390.50" stroke="#e2282e" stroke-width="1.5"/>
<circle cx="405.60" cy="390.50" r="1.6" fill="#e2282e"/>
<text x="412.40" y="393.10" font-size="7.35" font-weight="normal" text-anchor="start" fill="#222">Afatinib [IC<tspan font-size="5" dy="1.6">50</tspan><tspan dy="-1.6"> undefined]</tspan></text>
<rect x="401.0" y="400.75" width="2" height="2" fill="#111"/>
<rect x="404.6" y="400.75" width="2" height="2" fill="#111"/>
<rect x="408.2" y="400.75" width="2" height="2" fill="#111"/>
<text x="412.40" y="404.35" font-size="7.35" font-weight="normal" text-anchor="start" fill="#222">Oxaliplatin [IC<tspan font-size="5" dy="1.6">50</tspan><tspan dy="-1.6"> ~ 1.06 µmol/L]</tspan></text>
<line x1="401.30" y1="412.00" x2="410.00" y2="412.00" stroke="#111" stroke-width="1.5"/>
<text x="412.40" y="414.60" font-size="7.35" font-weight="normal" text-anchor="start" fill="#222">5 FU [IC<tspan font-size="5" dy="1.6">50</tspan><tspan dy="-1.6"> ~ 0.1 µmol/L]</tspan></text>
<text x="2.00" y="496.00" font-size="8.27" font-weight="bold" text-anchor="start" fill="#1a1a1a">Patient D; colorectal cancer</text>
<text x="2.00" y="505.60" font-size="8.42" font-weight="normal" text-anchor="start" fill="#222">Genomic alteration detected: <tspan font-style="italic">APC</tspan>mut, <tspan font-style="italic">APC</tspan> frameshift insertion</text>
<text x="4.20" y="524.80" font-size="13.1" font-weight="bold" text-anchor="start" fill="#111">J</text>
<text x="71.60" y="524.80" font-size="13.1" font-weight="bold" text-anchor="start" fill="#111">K</text>
<text x="271.50" y="524.80" font-size="13.1" font-weight="bold" text-anchor="start" fill="#111">L</text>
<rect x="22.7" y="525.30" width="5.20" height="111.50" fill="url(#gn)"/>
<rect x="33.8" y="525.00" width="13.00" height="111.80" fill="url(#gh3)"/>
<ellipse cx="44.2" cy="594.76" rx="2.3" ry="1.9" fill="#101020"/>
<ellipse cx="44.2" cy="630.32" rx="2.3" ry="1.9" fill="#101020"/>
<text x="7.40" y="581.00" font-size="7.8" font-weight="normal" text-anchor="middle" fill="#222" transform="rotate(-90 7.40 581.00)">Single compound screen</text>
<text x="19.40" y="530.10" font-size="6.2" font-weight="normal" text-anchor="end" fill="#222" transform="rotate(-90 19.40 530.10)">Resistance</text>
<text x="19.40" y="636.80" font-size="6.4" font-weight="normal" text-anchor="start" fill="#222" transform="rotate(-90 19.40 636.80)">Sensitivity</text>
<text x="56.80" y="581.40" font-size="8.1" font-weight="normal" text-anchor="middle" fill="#222" transform="rotate(-90 56.80 581.40)">Normalized AUC</text>
<text x="51.00" y="530.30" font-size="7.8" font-weight="normal" text-anchor="start" fill="#222">1</text>
<text x="51.10" y="637.40" font-size="7.8" font-weight="normal" text-anchor="start" fill="#222">0</text>
<text x="179.60" y="526.60" font-size="8.35" font-weight="normal" text-anchor="middle" fill="#222">High-throughput single compound screen</text>
<rect x="98.8" y="532.50" width="162.30" height="87.10" fill="none" stroke="#383838" stroke-width="1.15"/>
<line x1="96.10" y1="535.60" x2="98.80" y2="535.60" stroke="#383838" stroke-width="1.0"/>
<text x="93.60" y="538.50" font-size="8.2" font-weight="normal" text-anchor="end" fill="#222">1</text>
<line x1="96.10" y1="555.85" x2="98.80" y2="555.85" stroke="#383838" stroke-width="1.0"/>
<text x="93.60" y="558.75" font-size="8.2" font-weight="normal" text-anchor="end" fill="#222">0</text>
<line x1="96.10" y1="576.10" x2="98.80" y2="576.10" stroke="#383838" stroke-width="1.0"/>
<text x="93.60" y="579.00" font-size="8.2" font-weight="normal" text-anchor="end" fill="#222">−1</text>
<line x1="96.10" y1="596.35" x2="98.80" y2="596.35" stroke="#383838" stroke-width="1.0"/>
<text x="93.60" y="599.25" font-size="8.2" font-weight="normal" text-anchor="end" fill="#222">−2</text>
<line x1="96.10" y1="616.60" x2="98.80" y2="616.60" stroke="#383838" stroke-width="1.0"/>
<text x="93.60" y="619.50" font-size="8.2" font-weight="normal" text-anchor="end" fill="#222">−3</text>
<line x1="104.20" y1="619.60" x2="104.20" y2="622.30" stroke="#383838" stroke-width="1.0"/>
<text x="104.20" y="631.90" font-size="8.2" font-weight="normal" text-anchor="middle" fill="#222">0.0</text>
<line x1="125.74" y1="619.60" x2="125.74" y2="622.30" stroke="#383838" stroke-width="1.0"/>
<text x="125.74" y="631.90" font-size="8.2" font-weight="normal" text-anchor="middle" fill="#222">0.2</text>
<line x1="147.28" y1="619.60" x2="147.28" y2="622.30" stroke="#383838" stroke-width="1.0"/>
<text x="147.28" y="631.90" font-size="8.2" font-weight="normal" text-anchor="middle" fill="#222">0.4</text>
<line x1="168.82" y1="619.60" x2="168.82" y2="622.30" stroke="#383838" stroke-width="1.0"/>
<text x="168.82" y="631.90" font-size="8.2" font-weight="normal" text-anchor="middle" fill="#222">0.6</text>
<line x1="190.36" y1="619.60" x2="190.36" y2="622.30" stroke="#383838" stroke-width="1.0"/>
<text x="190.36" y="631.90" font-size="8.2" font-weight="normal" text-anchor="middle" fill="#222">0.8</text>
<line x1="211.90" y1="619.60" x2="211.90" y2="622.30" stroke="#383838" stroke-width="1.0"/>
<text x="211.90" y="631.90" font-size="8.2" font-weight="normal" text-anchor="middle" fill="#222">1.0</text>
<line x1="233.44" y1="619.60" x2="233.44" y2="622.30" stroke="#383838" stroke-width="1.0"/>
<text x="233.44" y="631.90" font-size="8.2" font-weight="normal" text-anchor="middle" fill="#222">1.2</text>
<line x1="254.98" y1="619.60" x2="254.98" y2="622.30" stroke="#383838" stroke-width="1.0"/>
<text x="254.98" y="631.90" font-size="8.2" font-weight="normal" text-anchor="middle" fill="#222">1.4</text>
<text x="179.60" y="643.50" font-size="8.4" font-weight="normal" text-anchor="middle" fill="#222">Normalized AUC</text>
<text x="78.80" y="575.65" font-size="8.5" font-weight="normal" text-anchor="middle" fill="#222" transform="rotate(-90 78.80 575.65)">AUC Z-score</text>
<circle cx="171.7" cy="590.4" r="1.8" fill="#cdcfd0" fill-opacity="0.7"/>
<circle cx="165.2" cy="593.9" r="1.8" fill="#cdcfd0" fill-opacity="0.7"/>
<circle cx="158.0" cy="605.4" r="1.8" fill="#cdcfd0" fill-opacity="0.7"/>
<circle cx="217.3" cy="569.0" r="1.8" fill="#cdcfd0" fill-opacity="0.7"/>
<circle cx="214.5" cy="573.9" r="1.8" fill="#cdcfd0" fill-opacity="0.7"/>
<circle cx="175.0" cy="587.5" r="1.8" fill="#cdcfd0" fill-opacity="0.7"/>
<circle cx="166.6" cy="593.5" r="1.8" fill="#cdcfd0" fill-opacity="0.7"/>
<circle cx="227.6" cy="567.5" r="1.8" fill="#cdcfd0" fill-opacity="0.7"/>
<circle cx="219.6" cy="570.3" r="1.8" fill="#cdcfd0" fill-opacity="0.7"/>
<circle cx="168.3" cy="600.4" r="1.8" fill="#cdcfd0" fill-opacity="0.7"/>
<circle cx="177.7" cy="594.5" r="1.8" fill="#cdcfd0" fill-opacity="0.7"/>
<circle cx="221.7" cy="575.6" r="1.8" fill="#cdcfd0" fill-opacity="0.7"/>
<circle cx="223.8" cy="566.7" r="1.8" fill="#cdcfd0" fill-opacity="0.7"/>
<circle cx="206.9" cy="575.5" r="1.8" fill="#cdcfd0" fill-opacity="0.7"/>
<circle cx="193.5" cy="582.0" r="1.8" fill="#cdcfd0" fill-opacity="0.7"/>
<circle cx="159.9" cy="594.8" r="1.8" fill="#cdcfd0" fill-opacity="0.7"/>
<circle cx="228.2" cy="565.9" r="1.8" fill="#cdcfd0" fill-opacity="0.7"/>
<circle cx="176.9" cy="594.2" r="1.8" fill="#cdcfd0" fill-opacity="0.7"/>
<circle cx="226.1" cy="576.1" r="1.8" fill="#cdcfd0" fill-opacity="0.7"/>
<circle cx="221.2" cy="574.9" r="1.8" fill="#cdcfd0" fill-opacity="0.7"/>
<circle cx="193.7" cy="587.6" r="1.8" fill="#cdcfd0" fill-opacity="0.7"/>
<circle cx="187.5" cy="584.0" r="1.8" fill="#cdcfd0" fill-opacity="0.7"/>
<circle cx="165.7" cy="597.9" r="1.8" fill="#cdcfd0" fill-opacity="0.7"/>
<circle cx="156.2" cy="594.0" r="1.8" fill="#cdcfd0" fill-opacity="0.7"/>
<circle cx="156.4" cy="601.8" r="1.8" fill="#cdcfd0" fill-opacity="0.7"/>
<circle cx="195.8" cy="584.7" r="1.8" fill="#cdcfd0" fill-opacity="0.7"/>
<circle cx="190.7" cy="591.5" r="1.8" fill="#cdcfd0" fill-opacity="0.7"/>
<circle cx="168.5" cy="584.7" r="1.8" fill="#cdcfd0" fill-opacity="0.7"/>
<circle cx="186.0" cy="585.6" r="1.8" fill="#cdcfd0" fill-opacity="0.7"/>
<circle cx="175.0" cy="587.1" r="1.8" fill="#cdcfd0" fill-opacity="0.7"/>
<circle cx="181.4" cy="589.0" r="1.8" fill="#cdcfd0" fill-opacity="0.7"/>
<circle cx="197.8" cy="584.9" r="1.8" fill="#cdcfd0" fill-opacity="0.7"/>
<circle cx="225.7" cy="568.8" r="1.8" fill="#cdcfd0" fill-opacity="0.7"/>
<circle cx="171.2" cy="592.7" r="1.8" fill="#cdcfd0" fill-opacity="0.7"/>
<circle cx="214.5" cy="576.6" r="1.8" fill="#cdcfd0" fill-opacity="0.7"/>
<circle cx="179.4" cy="591.5" r="1.8" fill="#cdcfd0" fill-opacity="0.7"/>
<circle cx="167.0" cy="596.2" r="1.8" fill="#cdcfd0" fill-opacity="0.7"/>
<circle cx="209.0" cy="576.8" r="1.8" fill="#cdcfd0" fill-opacity="0.7"/>
<circle cx="225.0" cy="564.7" r="1.8" fill="#cdcfd0" fill-opacity="0.7"/>
<circle cx="230.2" cy="569.5" r="1.8" fill="#cdcfd0" fill-opacity="0.7"/>
<circle cx="154.1" cy="602.9" r="1.8" fill="#cdcfd0" fill-opacity="0.7"/>
<circle cx="215.3" cy="565.6" r="1.8" fill="#cdcfd0" fill-opacity="0.7"/>
<circle cx="185.8" cy="582.6" r="1.8" fill="#cdcfd0" fill-opacity="0.7"/>
<circle cx="218.7" cy="574.5" r="1.8" fill="#cdcfd0" fill-opacity="0.7"/>
<circle cx="176.4" cy="589.8" r="1.8" fill="#cdcfd0" fill-opacity="0.7"/>
<circle cx="163.7" cy="593.2" r="1.8" fill="#cdcfd0" fill-opacity="0.7"/>
<circle cx="183.5" cy="585.1" r="1.8" fill="#cdcfd0" fill-opacity="0.7"/>
<circle cx="153.4" cy="601.8" r="1.8" fill="#cdcfd0" fill-opacity="0.7"/>
<circle cx="156.3" cy="596.9" r="1.8" fill="#cdcfd0" fill-opacity="0.7"/>
<circle cx="182.0" cy="583.5" r="1.8" fill="#cdcfd0" fill-opacity="0.7"/>
<circle cx="176.1" cy="583.3" r="1.8" fill="#cdcfd0" fill-opacity="0.7"/>
<circle cx="186.9" cy="581.0" r="1.8" fill="#cdcfd0" fill-opacity="0.7"/>
<circle cx="169.5" cy="593.1" r="1.8" fill="#cdcfd0" fill-opacity="0.7"/>
<circle cx="166.3" cy="595.1" r="1.8" fill="#cdcfd0" fill-opacity="0.7"/>
<circle cx="207.3" cy="577.2" r="1.8" fill="#cdcfd0" fill-opacity="0.7"/>
<circle cx="239.0" cy="560.6" r="1.8" fill="#cdcfd0" fill-opacity="0.7"/>
<circle cx="229.9" cy="563.3" r="1.8" fill="#cdcfd0" fill-opacity="0.7"/>
<circle cx="240.5" cy="561.3" r="1.8" fill="#cdcfd0" fill-opacity="0.7"/>
<circle cx="249.7" cy="571.9" r="1.8" fill="#cdcfd0" fill-opacity="0.7"/>
<circle cx="238.5" cy="552.5" r="1.8" fill="#cdcfd0" fill-opacity="0.7"/>
<circle cx="229.6" cy="568.0" r="1.8" fill="#cdcfd0" fill-opacity="0.7"/>
<circle cx="236.4" cy="562.4" r="1.8" fill="#cdcfd0" fill-opacity="0.7"/>
<circle cx="229.9" cy="557.7" r="1.8" fill="#cdcfd0" fill-opacity="0.7"/>
<circle cx="239.3" cy="569.2" r="1.8" fill="#cdcfd0" fill-opacity="0.7"/>
<circle cx="221.7" cy="570.6" r="1.8" fill="#cdcfd0" fill-opacity="0.7"/>
<circle cx="228.4" cy="562.7" r="1.8" fill="#cdcfd0" fill-opacity="0.7"/>
<circle cx="229.2" cy="564.5" r="1.8" fill="#cdcfd0" fill-opacity="0.7"/>
<circle cx="222.4" cy="572.5" r="1.8" fill="#cdcfd0" fill-opacity="0.7"/>
<circle cx="255.5" cy="570.9" r="1.8" fill="#cdcfd0" fill-opacity="0.7"/>
<circle cx="235.7" cy="571.0" r="1.8" fill="#cdcfd0" fill-opacity="0.7"/>
<circle cx="254.5" cy="560.5" r="1.8" fill="#cdcfd0" fill-opacity="0.7"/>
<circle cx="248.6" cy="566.2" r="1.8" fill="#cdcfd0" fill-opacity="0.7"/>
<circle cx="239.1" cy="558.4" r="1.8" fill="#cdcfd0" fill-opacity="0.7"/>
<circle cx="253.5" cy="552.6" r="1.8" fill="#cdcfd0" fill-opacity="0.7"/>
<circle cx="254.4" cy="549.6" r="1.8" fill="#cdcfd0" fill-opacity="0.7"/>
<circle cx="245.3" cy="561.4" r="1.8" fill="#cdcfd0" fill-opacity="0.7"/>
<circle cx="250.7" cy="563.3" r="1.8" fill="#cdcfd0" fill-opacity="0.7"/>
<circle cx="240.4" cy="570.0" r="1.8" fill="#cdcfd0" fill-opacity="0.7"/>
<circle cx="245.2" cy="560.9" r="1.8" fill="#cdcfd0" fill-opacity="0.7"/>
<circle cx="255.3" cy="558.5" r="1.8" fill="#cdcfd0" fill-opacity="0.7"/>
<circle cx="256.6" cy="539.0" r="1.8" fill="#cdcfd0" fill-opacity="0.7"/>
<circle cx="256.8" cy="546.0" r="1.8" fill="#cdcfd0" fill-opacity="0.7"/>
<circle cx="245.7" cy="546.2" r="1.8" fill="#cdcfd0" fill-opacity="0.7"/>
<circle cx="225.3" cy="565.1" r="1.8" fill="#cdcfd0" fill-opacity="0.7"/>
<circle cx="257.0" cy="554.3" r="1.8" fill="#cdcfd0" fill-opacity="0.7"/>
<circle cx="145.1" cy="594.3" r="1.8" fill="#cdcfd0" fill-opacity="0.7"/>
<circle cx="143.0" cy="604.5" r="1.8" fill="#cdcfd0" fill-opacity="0.7"/>
<circle cx="147.3" cy="606.5" r="1.8" fill="#cdcfd0" fill-opacity="0.7"/>
<circle cx="152.7" cy="598.4" r="1.8" fill="#cdcfd0" fill-opacity="0.7"/>
<circle cx="190.4" cy="602.4" r="1.8" fill="#cdcfd0" fill-opacity="0.7"/>
<circle cx="195.7" cy="606.5" r="1.8" fill="#cdcfd0" fill-opacity="0.7"/>
<circle cx="201.1" cy="603.4" r="1.8" fill="#cdcfd0" fill-opacity="0.7"/>
<circle cx="249.6" cy="544.7" r="1.8" fill="#cdcfd0" fill-opacity="0.7"/>
<circle cx="255.0" cy="548.8" r="1.8" fill="#cdcfd0" fill-opacity="0.7"/>
<circle cx="244.2" cy="549.8" r="1.8" fill="#cdcfd0" fill-opacity="0.7"/>
<circle cx="233.4" cy="545.7" r="1.8" fill="#cdcfd0" fill-opacity="0.7"/>
<rect x="226.99" y="564.38" width="3.2" height="4.0" fill="#e62a3e"/>
<text x="211.59" y="572.88" font-size="7.25" font-weight="normal" text-anchor="start" fill="#222">Trametinib</text>
<rect x="163.75" y="595.76" width="2.6" height="3.2" fill="#2a2a78"/>
<text x="168.55" y="600.16" font-size="7.25" font-weight="normal" text-anchor="start" fill="#222">Afatinib</text>
<text x="292.30" y="525.75" font-size="8.65" font-weight="normal" text-anchor="start" fill="#222">Tumor organoid drug validation</text>
<polyline points="299.60,540.74 300.60,540.74 301.60,540.74 302.61,540.74 303.61,540.74 304.61,540.74 305.61,540.74 306.61,540.74 307.61,540.74 308.62,540.74 309.62,540.74 310.62,540.74 311.62,540.74 312.62,540.74 313.62,540.74 314.62,540.74 315.63,540.74 316.63,540.74 317.63,540.74 318.63,540.74 319.63,540.74 320.63,540.74 321.64,540.74 322.64,540.74 323.64,540.74 324.64,540.74 325.64,540.74 326.64,540.74 327.65,540.74 328.65,540.74 329.65,540.74 330.65,540.74 331.65,540.74 332.66,540.75 333.66,540.75 334.66,540.75 335.66,540.75 336.66,540.75 337.66,540.76 338.67,540.76 339.67,540.77 340.67,540.77 341.67,540.78 342.67,540.79 343.67,540.80 344.68,540.81 345.68,540.83 346.68,540.85 347.68,540.88 348.68,540.91 349.68,540.94 350.69,540.99 351.69,541.05 352.69,541.12 353.69,541.20 354.69,541.30 355.69,541.43 356.69,541.58 357.70,541.77 358.70,541.99 359.70,542.27 360.70,542.60 361.70,543.00 362.70,543.49 363.71,544.08 364.71,544.78 365.71,545.62 366.71,546.62 367.71,547.81 368.72,549.19 369.72,550.81 370.72,552.67 371.72,554.79 372.72,557.17 373.72,559.82 374.73,562.70 375.73,565.80 376.73,569.07 377.73,572.45 378.73,575.86 379.73,579.26 380.74,582.55 381.74,585.70 382.74,588.64 383.74,591.35 384.74,593.79 385.74,595.98 386.75,597.90 387.75,599.57 388.75,601.01 389.75,602.24" fill="none" stroke="#111" stroke-width="2.35" stroke-dasharray="1.8 2.6" stroke-linejoin="round"/>
<polyline points="299.60,543.19 300.60,543.19 301.60,543.19 302.61,543.19 303.61,543.19 304.61,543.19 305.61,543.19 306.61,543.19 307.61,543.19 308.62,543.19 309.62,543.19 310.62,543.19 311.62,543.19 312.62,543.19 313.62,543.19 314.62,543.19 315.63,543.19 316.63,543.19 317.63,543.19 318.63,543.19 319.63,543.19 320.63,543.19 321.64,543.19 322.64,543.19 323.64,543.19 324.64,543.19 325.64,543.19 326.64,543.19 327.65,543.19 328.65,543.20 329.65,543.20 330.65,543.20 331.65,543.20 332.66,543.21 333.66,543.22 334.66,543.23 335.66,543.24 336.66,543.26 337.66,543.29 338.67,543.33 339.67,543.39 340.67,543.48 341.67,543.60 342.67,543.77 343.67,544.02 344.68,544.36 345.68,544.85 346.68,545.54 347.68,546.50 348.68,547.82 349.68,549.62 350.69,552.02 351.69,555.14 352.69,559.09 353.69,563.88 354.69,569.40 355.69,575.43 356.69,581.62 357.70,587.59 358.70,593.02 359.70,597.68 360.70,601.50 361.70,604.52 362.70,606.82 363.71,608.54 364.71,609.80 365.71,610.71 366.71,611.36 367.71,611.83 368.72,612.16 369.72,612.39 370.72,612.55 371.72,612.67 372.72,612.75 373.72,612.81 374.73,612.85 375.73,612.88 376.73,612.90 377.73,612.91 378.73,612.92 379.73,612.93 380.74,612.93 381.74,612.93 382.74,612.94 383.74,612.94 384.74,612.94 385.74,612.94 386.75,612.94 387.75,612.94 388.75,612.94 389.75,612.94" fill="none" stroke="#111" stroke-width="1.65" stroke-dasharray="8 3" stroke-linejoin="round"/>
<polyline points="299.60,551.95 300.60,551.95 301.60,551.95 302.61,551.95 303.61,551.95 304.61,551.95 305.61,551.95 306.61,551.95 307.61,551.95 308.62,551.95 309.62,551.95 310.62,551.95 311.62,551.95 312.62,551.95 313.62,551.95 314.62,551.95 315.63,551.95 316.63,551.95 317.63,551.95 318.63,551.95 319.63,551.95 320.63,551.95 321.64,551.95 322.64,551.95 323.64,551.95 324.64,551.95 325.64,551.95 326.64,551.95 327.65,551.95 328.65,551.95 329.65,551.95 330.65,551.95 331.65,551.95 332.66,551.95 333.66,551.95 334.66,551.95 335.66,551.95 336.66,551.95 337.66,551.95 338.67,551.95 339.67,551.95 340.67,551.95 341.67,551.95 342.67,551.95 343.67,551.95 344.68,551.96 345.68,551.96 346.68,551.96 347.68,551.96 348.68,551.96 349.68,551.96 350.69,551.96 351.69,551.96 352.69,551.96 353.69,551.96 354.69,551.96 355.69,551.97 356.69,551.97 357.70,551.97 358.70,551.98 359.70,551.98 360.70,551.99 361.70,552.01 362.70,552.02 363.71,552.04 364.71,552.06 365.71,552.10 366.71,552.14 367.71,552.19 368.72,552.26 369.72,552.35 370.72,552.47 371.72,552.61 372.72,552.80 373.72,553.04 374.73,553.35 375.73,553.73 376.73,554.22 377.73,554.82 378.73,555.56 379.73,556.46 380.74,557.53 381.74,558.78 382.74,560.21 383.74,561.80 384.74,563.53 385.74,565.34 386.75,567.17 387.75,568.97 388.75,570.68 389.75,572.26" fill="none" stroke="#e2282e" stroke-width="1.65" stroke-linejoin="round"/>
<polyline points="299.60,544.51 300.60,544.84 301.60,545.23 302.61,545.66 303.61,546.13 304.61,546.63 305.61,547.14 306.61,547.65 307.61,548.16 308.62,548.66 309.62,549.13 310.62,549.56 311.62,550.01 312.62,550.51 313.62,550.86 314.62,551.17 315.63,551.53 316.63,552.04 317.63,552.79 318.63,553.79 319.63,554.45 320.63,555.19 321.64,555.99 322.64,556.85 323.64,557.77 324.64,558.73 325.64,559.73 326.64,560.76 327.65,561.82 328.65,562.90 329.65,563.99 330.65,565.09 331.65,566.18 332.66,567.27 333.66,568.38 334.66,569.52 335.66,570.70 336.66,571.90 337.66,573.13 338.67,574.38 339.67,575.64 340.67,576.90 341.67,578.15 342.67,579.40 343.67,580.64 344.68,581.85 345.68,583.04 346.68,584.19 347.68,585.31 348.68,586.43 349.68,587.54 350.69,588.65 351.69,589.74 352.69,590.82 353.69,591.89 354.69,592.94 355.69,593.98 356.69,594.99 357.70,595.98 358.70,596.94 359.70,597.88 360.70,598.79 361.70,599.67 362.70,600.52 363.71,601.36 364.71,602.18 365.71,602.98 366.71,603.75 367.71,604.51 368.72,605.23 369.72,605.94 370.72,606.61 371.72,607.26 372.72,607.88 373.72,608.47 374.73,609.03 375.73,609.55 376.73,610.05 377.73,610.51 378.73,610.94 379.73,611.34 380.74,611.72 381.74,612.06 382.74,612.39 383.74,612.68 384.74,612.95 385.74,613.20 386.75,613.43 387.75,613.64 388.75,613.82 389.75,613.99" fill="none" stroke="#1f3c94" stroke-width="1.65" stroke-linejoin="round"/>
<rect x="309.77" y="536.68" width="3.2" height="3.2" fill="#111"/>
<rect x="324.02" y="538.09" width="3.2" height="3.2" fill="#111"/>
<rect x="349.67" y="538.79" width="3.2" height="3.2" fill="#111"/>
<rect x="362.50" y="547.20" width="3.2" height="3.2" fill="#111"/>
<rect x="375.32" y="566.83" width="3.2" height="3.2" fill="#111"/>
<rect x="388.15" y="599.07" width="3.2" height="3.2" fill="#111"/>
<circle cx="298.55" cy="550.20" r="1.6" fill="#e2282e"/>
<circle cx="311.38" cy="550.90" r="1.6" fill="#e2282e"/>
<circle cx="338.45" cy="553.71" r="1.6" fill="#e2282e"/>
<circle cx="351.27" cy="554.41" r="1.6" fill="#e2282e"/>
<circle cx="364.10" cy="553.71" r="1.6" fill="#e2282e"/>
<circle cx="376.93" cy="555.81" r="1.6" fill="#e2282e"/>
<circle cx="389.75" cy="569.83" r="1.6" fill="#e2282e"/>
<path d="M309.45 542.99h3.84l-1.92 3.5200000000000005z" fill="#fff" stroke="#1f3c94" stroke-width="0.8"/>
<path d="M323.70 552.81h3.84l-1.92 3.5200000000000005z" fill="#fff" stroke="#1f3c94" stroke-width="0.8"/>
<path d="M336.53 579.45h3.84l-1.92 3.5200000000000005z" fill="#fff" stroke="#1f3c94" stroke-width="0.8"/>
<path d="M349.35 587.16h3.84l-1.92 3.5200000000000005z" fill="#fff" stroke="#1f3c94" stroke-width="0.8"/>
<path d="M362.18 597.67h3.84l-1.92 3.5200000000000005z" fill="#fff" stroke="#1f3c94" stroke-width="0.8"/>
<path d="M375.00 603.28h3.84l-1.92 3.5200000000000005z" fill="#fff" stroke="#1f3c94" stroke-width="0.8"/>
<path d="M387.83 615.90h3.84l-1.92 3.5200000000000005z" fill="#fff" stroke="#1f3c94" stroke-width="0.8"/>
<line x1="299.60" y1="534.18" x2="299.60" y2="619.60" stroke="#222" stroke-width="1.4"/>
<line x1="298.90" y1="618.90" x2="404.60" y2="618.90" stroke="#222" stroke-width="1.4"/>
<line x1="296.70" y1="618.90" x2="299.60" y2="618.90" stroke="#222" stroke-width="1.1"/>
<text x="295.00" y="621.80" font-size="8.2" font-weight="normal" text-anchor="end" fill="#222">0.0</text>
<line x1="296.70" y1="590.86" x2="299.60" y2="590.86" stroke="#222" stroke-width="1.1"/>
<text x="295.00" y="593.76" font-size="8.2" font-weight="normal" text-anchor="end" fill="#222">0.4</text>
<line x1="296.70" y1="562.82" x2="299.60" y2="562.82" stroke="#222" stroke-width="1.1"/>
<text x="295.00" y="565.72" font-size="8.2" font-weight="normal" text-anchor="end" fill="#222">0.8</text>
<line x1="296.70" y1="534.78" x2="299.60" y2="534.78" stroke="#222" stroke-width="1.1"/>
<text x="295.00" y="537.68" font-size="8.2" font-weight="normal" text-anchor="end" fill="#222">1.2</text>
<line x1="318.50" y1="618.90" x2="318.50" y2="621.80" stroke="#222" stroke-width="1.1"/>
<text x="317.30" y="631.10" font-size="8.2" font-weight="normal" text-anchor="middle" fill="#222">−4</text>
<line x1="347.00" y1="618.90" x2="347.00" y2="621.80" stroke="#222" stroke-width="1.1"/>
<text x="345.80" y="631.10" font-size="8.2" font-weight="normal" text-anchor="middle" fill="#222">−2</text>
<line x1="375.50" y1="618.90" x2="375.50" y2="621.80" stroke="#222" stroke-width="1.1"/>
<text x="375.50" y="631.10" font-size="8.2" font-weight="normal" text-anchor="middle" fill="#222">0</text>
<line x1="404.00" y1="618.90" x2="404.00" y2="621.80" stroke="#222" stroke-width="1.1"/>
<text x="404.00" y="631.10" font-size="8.2" font-weight="normal" text-anchor="middle" fill="#222">2</text>
<text x="297.60" y="631.10" font-size="8.2" font-weight="normal" text-anchor="middle" fill="#222">−6</text>
<text x="352.00" y="642.10" font-size="8.2" font-weight="normal" text-anchor="middle" fill="#222">log[Agonist], µmol/L</text>
<text x="275.70" y="578.50" font-size="8.3" font-weight="normal" text-anchor="middle" fill="#222" transform="rotate(-90 275.70 578.50)">% Cell viability</text>
<line x1="401.30" y1="548.00" x2="410.00" y2="548.00" stroke="#1f3c94" stroke-width="1.5"/>
<circle cx="405.60" cy="548.00" r="1.6" fill="#1f3c94"/>
<text x="412.40" y="550.60" font-size="7.35" font-weight="normal" text-anchor="start" fill="#222">Afatinib [IC<tspan font-size="5" dy="1.6">50</tspan><tspan dy="-1.6"> ~ 0.004 µmol/L]</tspan></text>
<line x1="401.30" y1="557.50" x2="410.00" y2="557.50" stroke="#e2282e" stroke-width="1.5"/>
<circle cx="405.60" cy="557.50" r="1.6" fill="#e2282e"/>
<text x="412.40" y="560.10" font-size="7.35" font-weight="normal" text-anchor="start" fill="#222">Trametinib [IC<tspan font-size="5" dy="1.6">50</tspan><tspan dy="-1.6"> undefined]</tspan></text>
<rect x="401.0" y="566.00" width="2" height="2" fill="#111"/>
<rect x="404.6" y="566.00" width="2" height="2" fill="#111"/>
<rect x="408.2" y="566.00" width="2" height="2" fill="#111"/>
<text x="412.40" y="569.60" font-size="7.35" font-weight="normal" text-anchor="start" fill="#222">Oxaliplatin [IC<tspan font-size="5" dy="1.6">50</tspan><tspan dy="-1.6"> ~ 3.2 µmol/L]</tspan></text>
<line x1="401.30" y1="576.75" x2="410.00" y2="576.75" stroke="#111" stroke-width="1.5"/>
<text x="412.40" y="579.35" font-size="7.35" font-weight="normal" text-anchor="start" fill="#222">5 FU [IC<tspan font-size="5" dy="1.6">50</tspan><tspan dy="-1.6"> ~ 0.04 µmol/L]</tspan></text>
</g>
</svg>
</body></html>
